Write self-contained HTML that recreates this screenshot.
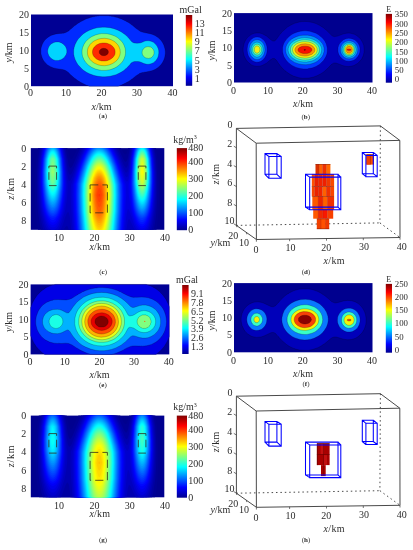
<!DOCTYPE html>
<html><head><meta charset="utf-8"><title>figure</title>
<style>html,body{margin:0;padding:0;background:#fff}svg{display:block}text{font-family:"Liberation Serif",serif;fill:#2c2c2c}</style>
</head><body>
<svg width="413" height="550" viewBox="0 0 413 550">
<defs>
<linearGradient id="jet" x1="0" y1="1" x2="0" y2="0"><stop offset="0" stop-color="#00008F"/><stop offset=".125" stop-color="#0000FF"/><stop offset=".375" stop-color="#00FFFF"/><stop offset=".625" stop-color="#FFFF00"/><stop offset=".875" stop-color="#FF0000"/><stop offset="1" stop-color="#800000"/></linearGradient>
<linearGradient id="jetb" x1="0" y1="1" x2="0" y2="0"><stop offset="0" stop-color="#00008F"/><stop offset=".125" stop-color="#0000FF"/><stop offset=".375" stop-color="#00FFFF"/><stop offset=".625" stop-color="#FFFF00"/><stop offset=".875" stop-color="#FF0000"/><stop offset="1" stop-color="#800000"/></linearGradient>
</defs>
<rect width="413" height="550" fill="#fff"/>
<rect x="31.0" y="14.5" width="142.0" height="71.7" fill="#000094"/>
<path d="M97.0,16.0 98.5,16.0 99.0,15.7 102.5,15.7 108.5,15.7 109.0,16.0 110.5,16.0 111.0,16.2 113.5,16.5 115.0,17.0 117.5,17.5 120.5,18.7 121.0,18.7 123.5,20.0 124.0,20.0 124.5,20.5 125.0,20.5 125.5,21.0 128.5,22.5 129.1,23.0 130.1,23.5 131.5,24.7 132.1,25.0 136.2,28.5 138.5,30.0 139.0,30.6 140.0,31.0 140.5,31.5 144.0,32.5 150.0,33.7 152.0,34.3 155.0,35.5 158.0,37.5 158.7,38.0 161.1,40.5 162.5,42.5 163.8,45.0 165.0,49.0 165.3,51.5 165.3,53.5 164.8,57.0 163.8,60.0 162.5,62.5 161.1,64.5 158.7,67.0 156.5,68.6 154.9,69.5 152.0,70.7 146.0,72.0 144.0,72.2 143.5,72.4 142.5,72.5 140.8,73.0 139.0,73.8 138.5,74.3 135.5,76.2 132.2,79.0 131.5,79.3 130.1,80.5 129.1,81.0 128.6,81.5 125.5,83.0 125.0,83.5 124.5,83.5 124.0,84.0 123.5,84.0 121.0,85.3 120.5,85.3 119.0,86.0 118.0,86.2 108.5,86.2 89.5,86.2 87.0,85.3 86.5,85.3 80.0,82.0 79.5,81.5 78.0,80.8 75.5,78.8 74.9,78.5 69.5,73.8 69.0,73.0 68.0,72.3 67.5,71.7 65.0,70.2 62.5,69.5 57.0,68.7 53.5,67.9 50.5,66.7 47.5,64.9 45.0,62.5 43.5,60.5 42.2,58.0 41.0,54.0 40.9,53.0 40.9,49.5 41.2,47.5 42.2,44.5 43.2,42.5 44.5,40.5 46.5,38.4 48.5,36.9 50.9,35.5 52.5,34.9 56.0,33.9 60.0,33.4 61.0,33.5 62.5,33.2 63.5,33.2 65.8,32.5 69.0,30.7 69.5,30.0 71.5,28.5 74.8,25.5 75.5,25.2 78.0,23.2 79.5,22.5 80.0,22.0 86.5,18.7 87.0,18.7 88.0,18.2 88.5,18.2 91.0,17.2 91.5,17.2 93.0,16.7 95.0,16.5 95.5,16.2 96.5,16.2Z" fill="#002AFF" stroke="#000" stroke-opacity=".5" stroke-width=".4"/>
<path d="M99.5,27.5 102.5,27.2 105.0,27.2 110.0,27.7 114.0,28.7 118.0,30.2 121.0,31.7 125.0,34.5 127.3,36.5 129.0,38.6 130.0,39.5 131.0,41.0 132.5,42.2 134.0,42.9 137.0,43.2 139.5,43.1 141.0,42.7 145.0,41.1 147.0,40.7 149.0,40.8 151.0,41.2 153.5,42.3 155.9,44.5 157.0,46.0 158.2,48.5 158.7,50.5 158.8,53.0 158.3,56.0 157.8,57.5 157.0,59.0 155.9,60.5 154.4,62.0 153.5,62.7 151.0,63.8 149.0,64.2 147.0,64.3 144.0,63.6 141.0,62.2 139.5,61.7 138.0,61.5 134.5,61.5 133.0,61.9 131.0,63.1 130.0,64.5 128.5,66.1 126.5,68.3 126.0,68.5 123.8,70.5 121.0,72.3 116.0,74.7 110.0,76.3 105.0,76.8 102.5,76.8 98.0,76.3 95.5,75.8 93.5,75.3 89.5,73.8 86.5,72.3 83.5,70.3 82.0,69.0 78.2,65.0 76.6,62.5 75.1,59.5 74.0,56.0 74.0,55.0 73.7,54.5 73.7,49.5 74.0,49.0 74.0,48.0 75.1,44.5 76.6,41.5 78.2,39.0 82.0,35.0 83.5,33.7 86.5,31.7 89.5,30.2 93.5,28.7 97.0,27.8ZM55.7,42.0 57.5,41.9 59.0,42.0 61.5,42.9 63.0,43.9 64.2,45.0 65.5,46.6 66.4,48.5 66.8,50.0 66.8,52.5 66.2,54.5 64.6,57.0 63.0,58.5 61.0,59.7 59.0,60.2 58.5,60.5 55.5,60.4 53.8,60.0 52.0,59.1 51.0,58.3 49.0,56.1 48.0,53.5 47.7,52.0 47.7,50.5 48.0,49.0 48.7,47.0 50.0,45.0 51.5,43.7 53.8,42.5Z" fill="#00D4FF" stroke="#000" stroke-opacity=".5" stroke-width=".4"/>
<path d="M99.0,34.0 101.5,33.6 107.0,33.7 110.5,34.4 115.0,36.1 117.5,37.6 119.3,39.0 122.2,42.0 123.2,43.5 124.2,45.5 125.2,48.5 125.5,51.0 125.5,53.5 125.2,55.5 124.2,58.5 123.2,60.5 122.2,62.0 119.3,65.0 116.5,67.0 114.5,68.1 112.0,69.1 110.0,69.8 108.5,70.0 106.0,70.4 101.5,70.4 99.5,70.1 95.5,69.1 91.5,67.3 88.5,65.2 85.8,62.5 84.0,59.8 82.6,56.5 82.1,54.0 82.0,52.0 82.1,50.0 82.6,47.5 84.0,44.2 85.8,41.5 88.5,38.8 91.5,36.7 95.5,34.9ZM145.9,47.0 148.0,46.6 150.5,47.0 151.5,47.5 153.0,49.0 154.0,51.0 154.0,54.0 153.5,55.0 153.0,56.0 151.5,57.5 150.5,58.0 148.5,58.4 146.0,58.0 145.0,57.6 143.5,56.3 142.5,54.8 142.1,53.0 142.1,52.0 142.5,50.2 143.5,48.7 145.0,47.4Z" fill="#80FF80" stroke="#000" stroke-opacity=".5" stroke-width=".4"/>
<path d="M101.0,38.5 104.5,38.3 106.5,38.5 109.0,39.0 111.5,39.9 114.0,41.2 115.5,42.4 117.0,43.8 118.5,45.8 119.1,47.0 120.0,49.5 120.3,52.5 119.9,55.0 118.6,58.0 117.0,60.2 115.5,61.6 112.5,63.6 109.0,65.0 106.5,65.5 104.5,65.7 101.0,65.5 98.0,64.8 94.0,63.0 91.5,61.1 90.0,59.5 88.2,56.5 87.6,54.5 87.4,52.0 87.6,49.5 88.2,47.5 90.0,44.5 91.5,42.9 94.0,41.0 98.0,39.2Z" fill="#FFD500" stroke="#000" stroke-opacity=".5" stroke-width=".4"/>
<path d="M102.5,43.0 105.0,43.0 107.0,43.3 110.0,44.4 111.0,45.0 113.0,46.7 114.0,48.0 114.8,49.5 115.1,51.0 115.1,53.0 114.8,54.5 114.0,56.0 112.3,58.0 110.0,59.6 107.0,60.7 105.0,61.0 101.5,60.9 99.0,60.2 96.5,59.0 94.3,57.0 93.6,56.0 93.0,55.0 92.5,53.0 92.5,51.0 93.0,49.0 94.3,47.0 96.5,45.0 98.5,44.0 99.5,43.6Z" fill="#FF2A00" stroke="#000" stroke-opacity=".5" stroke-width=".4"/>
<path d="M102.0,48.5 103.5,48.3 105.5,48.5 107.3,49.5 108.0,50.5 108.5,52.0 108.0,53.5 107.3,54.5 106.0,55.2 105.5,55.5 104.0,55.7 102.0,55.5 101.0,55.0 99.5,53.5 99.2,52.0 99.5,50.5 101.0,49.0Z" fill="#800000" stroke="#000" stroke-opacity=".5" stroke-width=".4"/>
<text x="29.0" y="17.9" text-anchor="end" font-size="10">20</text>
<text x="29.0" y="35.8" text-anchor="end" font-size="10">15</text>
<text x="29.0" y="53.8" text-anchor="end" font-size="10">10</text>
<text x="29.0" y="71.7" text-anchor="end" font-size="10">5</text>
<text x="29.0" y="89.6" text-anchor="end" font-size="10">0</text>
<text x="30.5" y="96.3" text-anchor="middle" font-size="10">0</text>
<text x="66.0" y="96.3" text-anchor="middle" font-size="10">10</text>
<text x="101.5" y="96.3" text-anchor="middle" font-size="10">20</text>
<text x="137.0" y="96.3" text-anchor="middle" font-size="10">30</text>
<text x="172.5" y="96.3" text-anchor="middle" font-size="10">40</text>
<text x="12.3" y="52.5" text-anchor="middle" font-size="10" transform="rotate(-90 12.3 52.5)"><tspan font-style="italic">y</tspan>/km</text>
<text x="101.6" y="110.1" text-anchor="middle" font-size="10"><tspan font-style="italic">x</tspan>/km</text>
<text x="102.9" y="118.3" text-anchor="middle" font-size="7">(<tspan font-weight="bold">a</tspan>)</text>
<rect x="185.8" y="15.0" width="6.4" height="70.8" fill="url(#jet)"/>
<text x="190.7" y="13.2" text-anchor="middle" font-size="10">mGal</text>
<text x="194.8" y="26.7" text-anchor="start" font-size="10">13</text>
<text x="194.8" y="35.9" text-anchor="start" font-size="10">11</text>
<text x="194.8" y="45.2" text-anchor="start" font-size="10">9</text>
<text x="194.8" y="54.4" text-anchor="start" font-size="10">7</text>
<text x="194.8" y="63.7" text-anchor="start" font-size="10">5</text>
<text x="194.8" y="73.0" text-anchor="start" font-size="10">3</text>
<text x="194.8" y="82.2" text-anchor="start" font-size="10">1</text>
<rect x="30.6" y="284.4" width="138.7" height="70.0" fill="#000094"/>
<path d="M53.5,284.9 55.6,284.4 146.1,284.4 150.6,285.9 152.6,286.8 153.1,287.2 155.1,288.2 156.9,289.4 159.6,291.6 162.6,294.7 165.0,297.9 166.3,299.9 168.5,304.4 169.3,306.7 169.3,336.6 168.7,338.4 167.0,341.9 164.3,346.4 161.8,349.4 158.6,352.5 156.0,354.4 147.6,354.4 44.6,354.4 44.1,353.9 43.6,353.8 42.7,352.9 42.1,352.7 39.6,350.3 39.0,349.9 38.7,349.4 36.1,346.4 34.6,344.0 34.1,343.4 31.6,338.4 31.6,337.9 30.9,336.4 30.6,335.4 30.6,307.4 31.1,306.4 31.1,305.9 32.1,303.9 32.1,303.4 34.6,298.9 37.1,295.3 41.3,290.9 42.3,290.4 43.1,289.5 43.7,289.4 45.6,287.9 46.1,287.8 46.6,287.3 49.6,286.0 50.6,285.8 52.1,285.1Z" fill="#0000E6" stroke="#000" stroke-opacity=".5" stroke-width=".4"/>
<path d="M96.6,287.9 98.6,287.6 102.6,287.5 108.1,288.0 111.1,288.6 114.6,289.5 117.6,290.5 119.6,291.5 120.1,291.5 120.6,292.0 121.1,292.0 121.6,292.5 122.1,292.5 122.5,292.9 127.1,295.3 131.1,296.9 134.1,297.4 134.6,297.2 136.6,297.3 141.6,297.1 145.1,297.2 148.6,297.8 150.1,298.4 150.6,298.4 153.0,299.4 156.1,301.3 158.1,302.8 161.5,306.4 163.1,308.8 164.4,311.4 165.6,314.9 166.2,317.9 166.5,321.4 166.2,325.4 165.1,329.9 164.1,332.4 162.6,335.2 160.1,338.5 157.1,341.3 155.6,342.3 151.6,344.4 146.6,345.8 142.1,346.2 141.6,346.0 140.6,346.2 140.1,346.0 138.6,346.1 135.1,345.9 132.6,346.0 130.6,346.4 125.9,348.4 125.3,348.9 124.1,349.4 123.6,349.9 120.1,351.6 116.1,353.2 115.1,353.4 114.6,353.7 111.6,354.4 105.1,354.4 90.6,354.3 88.6,353.7 88.1,353.4 87.1,353.3 81.1,350.6 79.6,349.8 77.6,348.4 76.5,347.9 72.1,345.0 68.6,343.5 65.6,343.2 61.1,343.5 58.6,343.3 58.1,343.5 54.1,343.2 49.6,342.1 45.1,339.8 42.6,337.7 41.3,336.4 39.1,333.4 37.7,330.9 36.9,328.9 35.9,324.9 35.7,322.9 35.7,320.4 36.1,317.4 36.4,315.9 38.1,311.4 38.9,309.9 41.0,306.9 43.1,304.8 47.1,302.0 47.6,302.0 51.1,300.4 52.1,300.4 53.6,299.8 58.6,299.5 59.1,299.7 60.1,299.5 60.6,299.7 66.1,299.9 69.6,299.3 71.6,298.4 74.6,296.6 77.1,294.9 78.1,294.4 78.6,293.9 80.7,292.9 81.1,292.5 81.6,292.5 82.1,292.0 82.6,292.0 83.1,291.5 83.6,291.5 85.6,290.5 90.1,289.1 95.1,288.0Z" fill="#004DFF" stroke="#000" stroke-opacity=".5" stroke-width=".4"/>
<path d="M101.6,292.4 106.1,292.7 110.1,293.4 113.6,294.4 117.6,296.1 121.6,298.4 124.3,300.4 126.6,302.4 130.5,306.4 131.6,307.1 132.6,307.4 133.1,307.5 134.6,307.2 139.6,305.6 142.6,305.1 145.6,305.1 148.6,305.7 150.6,306.4 152.6,307.4 155.1,309.2 156.6,310.7 158.5,313.4 159.5,315.4 160.4,318.4 160.6,319.9 160.6,323.4 160.0,326.4 159.2,328.4 158.5,329.9 157.4,331.4 154.6,334.4 151.1,336.6 148.1,337.7 145.6,338.1 142.6,338.1 139.6,337.6 134.4,335.9 132.6,335.8 131.6,336.2 130.6,336.8 125.3,341.9 121.1,345.2 115.9,347.9 111.6,349.4 107.6,350.3 104.1,350.7 99.6,350.7 95.6,350.3 90.6,349.1 85.6,347.1 82.1,345.2 79.1,342.9 75.6,339.6 72.7,335.9 69.8,331.4 68.8,330.4 68.1,330.1 67.6,329.9 66.1,330.5 62.1,332.6 60.1,333.2 57.6,333.7 53.6,333.5 51.6,333.1 48.6,331.7 47.1,330.7 44.8,328.4 44.1,327.4 43.0,324.9 42.6,323.4 42.5,320.4 43.4,316.9 44.9,314.4 46.6,312.7 48.6,311.2 49.6,310.7 53.1,309.5 57.6,309.3 59.6,309.6 61.6,310.2 63.1,310.9 66.6,312.8 68.6,312.9 70.6,310.6 73.0,306.9 76.6,302.5 78.9,300.4 83.6,297.1 87.1,295.4 89.6,294.4 93.1,293.4 97.1,292.7Z" fill="#00B2FF" stroke="#000" stroke-opacity=".5" stroke-width=".4"/>
<path d="M98.6,297.4 103.1,297.2 105.6,297.5 109.1,298.1 112.6,299.3 117.1,301.6 120.6,304.3 122.7,306.4 125.0,309.4 128.1,315.0 129.1,315.8 130.1,315.9 132.7,315.4 134.6,314.5 137.6,312.5 139.1,311.7 141.1,311.0 143.6,310.6 145.6,310.7 148.6,311.5 150.6,312.5 152.9,314.4 154.3,316.4 155.2,318.4 155.6,320.4 155.6,322.9 155.0,325.4 153.6,327.9 151.6,330.0 150.1,331.0 147.6,332.1 145.6,332.5 143.6,332.6 141.6,332.3 139.6,331.7 138.1,331.0 133.6,328.1 131.1,327.4 129.6,327.3 128.4,327.9 127.1,330.1 125.3,333.4 123.5,335.9 120.6,338.9 118.1,340.9 114.6,343.0 112.1,344.1 109.6,344.9 105.6,345.7 102.6,346.0 97.6,345.7 93.6,344.9 91.1,344.1 88.6,343.0 85.1,340.9 82.6,338.9 79.7,335.9 78.0,333.4 76.4,330.4 75.5,327.9 74.7,323.9 74.8,318.4 75.8,314.4 76.8,311.9 78.2,309.4 80.5,306.4 82.6,304.3 86.1,301.6 88.6,300.2 92.6,298.6 95.6,297.8ZM54.1,314.9 56.1,314.6 57.1,314.7 58.1,314.9 60.1,315.9 61.6,317.4 62.6,319.3 62.9,321.9 62.6,323.4 62.1,324.4 62.1,324.9 59.6,327.4 57.6,328.2 57.1,328.4 55.1,328.4 53.6,327.9 51.6,326.9 50.6,325.9 49.6,323.9 49.1,322.4 49.1,320.4 50.1,317.9 52.6,315.4 53.1,315.4Z" fill="#1AFFE5" stroke="#000" stroke-opacity=".5" stroke-width=".4"/>
<path d="M99.6,300.9 103.1,300.8 105.1,301.0 108.6,301.8 112.6,303.3 116.1,305.5 119.1,308.1 121.4,310.9 123.4,314.9 124.3,317.9 124.5,319.9 124.5,323.9 123.5,327.9 121.9,331.4 119.1,335.1 116.1,337.7 114.1,339.1 112.1,340.1 107.6,341.7 103.6,342.3 99.1,342.3 95.6,341.7 91.1,340.1 89.1,339.1 87.1,337.7 84.1,335.1 81.3,331.4 79.7,327.9 78.7,323.9 78.7,319.9 79.0,317.9 79.8,314.9 81.8,310.9 84.1,308.1 87.1,305.5 89.1,304.1 91.1,303.1 94.6,301.8 97.6,301.1ZM142.6,314.9 146.1,314.9 146.6,315.4 147.1,315.4 147.6,315.9 148.1,315.9 150.1,317.9 150.1,318.4 150.6,318.9 150.6,319.9 151.1,320.9 151.1,322.4 150.6,323.4 150.6,324.4 149.6,325.4 149.6,325.9 148.1,327.4 147.6,327.4 147.1,327.9 146.6,327.9 146.1,328.2 145.6,328.4 142.6,328.4 142.1,327.9 141.1,327.7 140.6,327.4 138.6,325.6 137.5,323.9 137.2,322.4 137.1,320.9 137.5,319.4 138.1,318.2 138.5,317.9 138.6,317.4 139.6,316.4 140.1,316.3 141.1,315.4 141.6,315.4Z" fill="#80FF80" stroke="#000" stroke-opacity=".5" stroke-width=".4"/>
<path d="M101.6,303.4 105.1,303.7 107.1,304.1 109.6,305.0 113.1,306.8 115.8,308.9 117.6,310.9 119.5,313.9 120.4,315.9 121.0,317.9 121.4,321.4 121.2,324.4 120.1,328.1 118.6,330.9 116.2,333.9 113.1,336.4 109.6,338.2 105.6,339.4 102.1,339.8 98.1,339.5 94.6,338.6 91.1,337.0 88.1,334.9 85.7,332.4 83.5,328.9 82.3,325.9 81.8,321.9 81.8,320.4 82.2,317.9 83.2,314.9 84.5,312.4 85.6,310.9 87.4,308.9 90.1,306.8 93.6,305.0 96.1,304.1 98.1,303.7Z" fill="#E5FF1A" stroke="#000" stroke-opacity=".5" stroke-width=".4"/>
<path d="M98.1,306.4 101.6,306.0 104.6,306.3 107.1,306.9 110.6,308.4 113.6,310.6 115.6,312.9 117.1,315.4 118.1,318.4 118.5,321.9 118.1,324.9 117.0,327.9 115.9,329.9 113.8,332.4 111.2,334.4 108.3,335.9 105.1,336.8 101.1,337.2 98.1,336.8 94.9,335.9 92.1,334.5 89.4,332.4 87.6,330.3 86.2,327.9 85.1,324.9 84.7,321.9 85.0,318.9 86.1,315.4 87.6,312.9 89.6,310.6 92.6,308.4 96.1,306.9Z" fill="#FFB300" stroke="#000" stroke-opacity=".5" stroke-width=".4"/>
<path d="M99.6,309.4 102.1,309.3 104.6,309.5 107.1,310.3 109.1,311.2 111.4,312.9 113.1,314.8 114.1,316.4 115.2,319.4 115.4,322.4 115.0,324.4 114.5,325.9 113.1,328.4 111.3,330.4 109.2,331.9 106.6,333.1 103.6,333.8 101.1,334.0 98.1,333.5 95.6,332.7 93.1,331.3 91.1,329.6 89.6,327.7 88.7,325.9 88.0,323.4 87.8,320.9 88.0,319.4 89.1,316.4 90.1,314.8 91.8,312.9 94.1,311.2 97.1,309.9Z" fill="#FF4C00" stroke="#000" stroke-opacity=".5" stroke-width=".4"/>
<path d="M100.1,312.9 102.1,312.8 104.6,313.2 106.6,313.9 108.1,314.7 109.1,315.4 110.5,316.9 111.6,318.7 112.1,320.4 112.2,321.9 111.9,323.4 111.1,325.4 110.1,326.8 109.0,327.9 106.6,329.3 104.6,330.0 103.1,330.3 101.6,330.4 98.6,330.0 95.6,328.8 94.1,327.8 92.8,326.4 91.6,324.4 91.2,322.9 91.1,320.4 91.5,318.9 93.1,316.4 94.1,315.4 96.1,314.1 97.6,313.5Z" fill="#E50000" stroke="#000" stroke-opacity=".5" stroke-width=".4"/>
<path d="M99.1,316.4 101.1,316.1 104.1,316.4 106.6,317.9 107.7,319.4 108.2,320.9 108.1,322.9 107.1,324.7 106.4,325.4 105.1,326.4 104.1,326.7 103.6,326.9 100.6,327.0 99.6,326.9 98.1,326.4 96.1,324.7 95.1,322.9 95.0,320.9 95.6,319.1 96.6,317.9Z" fill="#800000" stroke="#000" stroke-opacity=".5" stroke-width=".4"/>
<text x="28.6" y="287.8" text-anchor="end" font-size="10">20</text>
<text x="28.6" y="305.3" text-anchor="end" font-size="10">15</text>
<text x="28.6" y="322.8" text-anchor="end" font-size="10">10</text>
<text x="28.6" y="340.3" text-anchor="end" font-size="10">5</text>
<text x="28.6" y="357.8" text-anchor="end" font-size="10">0</text>
<text x="30.1" y="365.0" text-anchor="middle" font-size="10">0</text>
<text x="64.8" y="365.0" text-anchor="middle" font-size="10">10</text>
<text x="99.5" y="365.0" text-anchor="middle" font-size="10">20</text>
<text x="134.1" y="365.0" text-anchor="middle" font-size="10">30</text>
<text x="168.8" y="365.0" text-anchor="middle" font-size="10">40</text>
<text x="12.3" y="322.0" text-anchor="middle" font-size="10" transform="rotate(-90 12.3 322.0)"><tspan font-style="italic">y</tspan>/km</text>
<text x="99.6" y="377.5" text-anchor="middle" font-size="10"><tspan font-style="italic">x</tspan>/km</text>
<text x="102.9" y="386.7" text-anchor="middle" font-size="7">(<tspan font-weight="bold">e</tspan>)</text>
<circle cx="144.7" cy="321.4" r=".7" fill="#E08020"/>
<rect x="182.2" y="285.0" width="6.4" height="69.0" fill="url(#jet)"/>
<text x="187.0" y="283.2" text-anchor="middle" font-size="10">mGal</text>
<text x="191.0" y="296.8" text-anchor="start" font-size="10">9.1</text>
<text x="191.0" y="305.7" text-anchor="start" font-size="10">7.8</text>
<text x="191.0" y="314.6" text-anchor="start" font-size="10">6.5</text>
<text x="191.0" y="323.5" text-anchor="start" font-size="10">5.2</text>
<text x="191.0" y="332.4" text-anchor="start" font-size="10">3.9</text>
<text x="191.0" y="341.3" text-anchor="start" font-size="10">2.6</text>
<text x="191.0" y="350.2" text-anchor="start" font-size="10">1.3</text>
<rect x="234.0" y="13.1" width="138.5" height="69.4" fill="#00008F"/>
<path d="M301.5,21.6 304.0,21.6 304.5,21.4 308.0,21.6 312.5,22.4 316.1,23.6 320.0,25.5 323.5,27.8 326.8,30.6 331.9,35.6 333.0,36.2 334.5,36.6 337.5,36.1 343.5,33.8 346.5,33.2 349.0,33.0 351.0,33.3 354.5,34.3 356.0,35.1 358.5,36.9 359.7,38.1 361.3,40.1 362.7,42.6 363.8,45.6 364.2,50.1 364.0,52.6 363.3,55.6 361.9,58.6 360.9,60.1 358.6,62.6 357.5,63.5 354.0,65.5 351.0,66.3 348.5,66.6 347.0,66.5 345.0,66.2 342.5,65.5 338.0,63.7 336.0,63.1 334.5,63.0 333.5,63.2 331.3,64.6 328.0,68.1 324.0,71.7 321.0,73.7 317.0,75.8 313.5,77.1 309.0,78.1 302.5,78.3 299.0,77.8 293.4,76.1 290.5,74.6 286.6,72.1 285.6,71.1 285.0,70.8 281.8,67.6 280.1,65.6 279.1,64.1 278.5,63.6 277.5,61.8 275.8,59.6 274.9,59.1 274.5,58.6 272.5,58.5 272.0,58.9 271.4,59.1 271.0,59.6 270.0,60.2 266.5,63.2 262.0,65.6 259.5,66.2 256.5,66.3 254.0,65.9 251.5,64.9 249.0,63.1 247.0,61.1 245.4,58.6 244.2,56.1 243.6,54.1 243.1,51.1 243.1,48.1 243.9,44.1 244.6,42.1 245.6,40.1 247.0,38.1 249.0,36.1 251.5,34.3 254.0,33.3 256.5,32.9 259.5,33.0 262.0,33.6 266.5,36.0 271.3,40.1 272.5,40.8 273.5,41.0 274.5,40.9 276.0,39.8 279.7,34.6 280.3,34.1 281.8,32.1 287.4,27.1 291.0,24.9 294.5,23.3 299.5,21.9Z" fill="#0000B8" stroke="#000" stroke-opacity=".5" stroke-width=".4"/>
<path d="M302.0,31.1 304.0,30.8 306.0,30.8 310.0,31.3 314.5,32.7 316.0,33.3 318.5,34.8 321.0,36.7 322.9,38.6 324.9,41.1 326.3,44.1 327.3,48.1 327.3,51.6 326.9,54.1 325.7,57.1 323.5,60.6 320.0,63.9 318.5,65.0 316.0,66.4 312.0,68.0 308.5,68.6 307.5,68.9 303.5,68.9 300.0,68.5 296.0,67.4 292.0,65.5 289.0,63.3 286.8,61.1 285.7,59.6 284.1,57.1 283.5,55.6 282.6,52.1 282.6,47.6 283.2,45.1 283.7,43.6 284.8,41.6 287.0,38.5 290.0,35.7 292.0,34.3 294.0,33.3 297.5,31.9 300.5,31.2ZM255.7,37.1 257.5,37.0 259.5,37.3 261.0,37.9 263.0,39.4 264.5,41.0 265.7,43.1 266.8,46.1 267.1,48.1 267.2,49.6 266.9,52.6 266.4,54.6 265.2,57.1 263.7,59.1 262.0,60.6 260.5,61.5 258.5,62.1 256.5,62.2 254.5,61.8 252.5,60.8 250.5,59.1 249.1,57.1 248.3,55.6 247.7,53.6 247.2,50.6 247.2,48.6 247.7,45.6 248.3,43.6 249.1,42.1 250.5,40.1 252.5,38.4 253.5,37.8ZM346.9,38.6 348.5,38.3 350.5,38.4 352.5,38.9 354.5,39.8 356.2,41.1 358.0,43.1 359.3,45.6 359.8,47.1 360.0,48.6 359.9,52.1 359.3,54.1 358.2,56.1 356.6,58.1 355.0,59.5 353.0,60.5 350.9,61.1 349.0,61.3 346.0,60.9 344.0,60.0 342.5,59.1 340.1,56.6 339.1,55.1 338.3,53.1 338.1,52.1 337.9,50.6 338.0,47.6 338.8,45.1 340.0,43.1 342.0,41.0 343.5,39.8 346.0,38.7Z" fill="#0038FF" stroke="#000" stroke-opacity=".5" stroke-width=".4"/>
<path d="M300.0,35.6 303.0,35.2 307.5,35.2 310.5,35.7 314.0,36.8 317.5,38.7 319.9,40.6 322.4,43.6 323.4,45.6 324.1,48.1 324.1,51.6 323.2,54.6 321.8,57.1 320.0,59.1 317.0,61.5 314.0,63.0 310.0,64.2 306.0,64.7 302.0,64.5 298.0,63.7 294.5,62.4 291.0,60.2 289.5,58.9 287.4,56.1 286.2,53.6 285.7,51.1 285.7,48.1 286.2,46.1 286.9,44.6 288.5,42.1 289.9,40.6 291.5,39.2 294.0,37.7 297.0,36.4ZM255.0,40.1 257.0,39.7 258.5,39.9 259.5,40.2 261.0,41.0 262.3,42.1 263.1,43.1 264.0,44.8 264.6,46.6 265.0,49.6 264.8,51.6 264.1,54.1 263.1,56.1 262.3,57.1 261.0,58.2 259.5,59.0 258.0,59.4 256.0,59.4 254.5,58.9 253.1,58.1 251.0,55.9 250.1,54.1 249.5,52.3 249.2,50.6 249.2,48.6 249.7,46.1 250.3,44.6 251.2,43.1 252.5,41.6 253.5,40.8ZM347.0,41.1 348.5,40.8 350.5,40.9 352.5,41.5 354.0,42.3 355.4,43.6 356.2,44.6 357.3,46.6 357.7,48.1 357.8,50.1 357.6,51.6 357.2,53.1 356.2,55.1 355.3,56.1 354.0,57.3 353.0,57.9 351.0,58.6 349.5,58.8 348.0,58.7 346.5,58.4 344.5,57.5 343.0,56.3 341.7,54.6 341.2,53.6 340.5,51.6 340.4,49.1 340.6,47.6 341.6,45.1 342.8,43.6 344.0,42.5 345.0,41.8Z" fill="#0090FF" stroke="#000" stroke-opacity=".5" stroke-width=".4"/>
<path d="M301.2,38.1 304.5,37.8 307.0,37.9 310.0,38.3 313.5,39.5 316.0,40.8 318.3,42.6 320.0,44.6 321.3,47.1 321.7,49.1 321.6,51.1 320.9,53.6 319.5,55.9 317.5,57.9 314.5,59.8 312.0,60.9 309.0,61.6 306.5,62.0 303.0,61.9 299.5,61.4 296.5,60.4 294.0,59.1 291.5,57.2 289.7,55.1 288.7,53.1 288.1,50.6 288.2,48.6 288.9,46.1 290.5,43.7 292.1,42.1 294.5,40.4 298.0,38.8ZM255.2,42.6 256.5,42.2 257.5,42.2 258.5,42.4 259.5,42.8 260.5,43.5 261.5,44.6 262.2,45.6 262.8,47.1 263.1,49.6 262.9,51.6 262.4,53.1 261.0,55.2 259.0,56.6 258.0,56.9 256.5,57.0 255.5,56.7 254.0,56.0 252.3,54.1 251.3,51.6 251.1,49.1 251.3,47.6 251.8,46.1 253.1,44.1 254.0,43.2ZM348.0,42.6 349.0,42.5 351.0,42.8 353.0,43.8 354.0,44.6 354.8,45.6 355.4,46.6 355.9,48.1 356.1,49.6 356.0,51.1 355.1,53.6 354.4,54.6 353.4,55.6 351.0,56.8 349.5,57.1 348.0,57.0 347.0,56.8 345.5,56.1 344.5,55.3 343.5,54.1 342.6,52.6 342.2,51.1 342.2,48.6 342.6,47.1 343.4,45.6 344.2,44.6 345.4,43.6 346.5,43.0Z" fill="#10D8F0" stroke="#000" stroke-opacity=".5" stroke-width=".4"/>
<path d="M301.5,40.1 304.0,39.8 307.0,39.9 309.5,40.3 312.5,41.3 314.5,42.3 316.8,44.1 318.0,45.6 319.0,47.6 319.4,49.6 319.2,51.6 318.7,53.1 317.3,55.1 315.5,56.8 313.3,58.1 311.0,59.1 308.5,59.7 305.5,60.0 303.0,59.9 300.5,59.5 298.0,58.8 296.0,57.9 294.0,56.6 292.1,54.6 290.9,52.6 290.4,50.1 290.6,48.1 291.2,46.6 292.6,44.6 294.0,43.2 296.5,41.7 299.0,40.7ZM348.1,44.1 350.0,44.1 352.0,44.8 353.7,46.6 354.4,48.1 354.6,50.1 354.4,51.6 353.9,52.6 353.3,53.6 352.5,54.4 350.5,55.4 348.0,55.5 346.5,54.9 344.9,53.6 344.3,52.6 343.7,51.1 343.6,49.1 344.2,47.1 344.8,46.1 345.9,45.1 347.0,44.4ZM255.4,44.6 257.0,44.2 258.0,44.3 259.0,44.7 260.5,46.1 261.3,47.6 261.6,49.6 261.3,51.6 260.5,53.1 259.0,54.5 258.0,54.9 257.0,55.0 255.5,54.6 254.0,53.5 252.9,51.6 252.6,49.6 252.9,47.6 254.0,45.7Z" fill="#70FF90" stroke="#000" stroke-opacity=".5" stroke-width=".4"/>
<path d="M301.2,42.1 303.5,41.8 305.5,41.7 308.5,42.1 310.5,42.6 312.0,43.2 314.0,44.3 315.4,45.6 316.5,47.1 317.1,48.6 317.2,50.6 316.6,52.6 315.9,53.6 314.5,55.0 313.0,56.1 311.0,57.0 309.0,57.6 306.5,58.0 304.5,58.1 300.5,57.6 297.8,56.6 296.0,55.6 294.3,54.1 293.5,53.1 292.7,51.1 292.5,49.6 293.0,47.6 293.6,46.6 295.0,45.0 297.0,43.6 298.5,42.9ZM348.3,45.1 350.0,45.1 351.0,45.5 351.9,46.1 353.0,47.6 353.4,49.1 353.4,50.6 352.7,52.6 351.5,53.8 350.0,54.5 348.5,54.5 347.5,54.2 346.5,53.7 345.3,52.1 344.8,50.6 344.9,48.6 345.5,47.1 347.0,45.6ZM256.5,46.1 258.0,46.1 258.6,46.6 259.5,47.6 259.9,49.1 260.0,49.6 259.5,51.6 258.0,53.1 256.5,53.1 255.5,52.6 255.0,52.1 254.5,51.1 254.3,49.6 254.5,48.1 255.0,47.1 255.5,46.6Z" fill="#F0F010" stroke="#000" stroke-opacity=".5" stroke-width=".4"/>
<path d="M301.5,44.1 305.5,43.7 309.5,44.4 311.0,45.0 312.8,46.1 314.4,48.1 314.8,49.1 314.8,50.6 314.5,51.6 313.9,52.6 312.9,53.6 311.5,54.5 308.5,55.6 306.5,56.0 304.5,56.1 301.0,55.6 299.5,55.1 297.5,54.0 296.4,53.1 295.6,52.1 295.0,50.6 294.9,49.6 295.2,48.6 296.0,47.1 297.0,46.1 298.5,45.2ZM347.7,46.6 349.0,46.3 350.5,46.6 351.5,47.5 352.0,48.3 352.3,49.6 352.1,51.1 351.5,52.1 350.2,53.1 349.0,53.3 347.9,53.1 347.0,52.5 346.1,51.1 345.9,50.1 346.1,48.6 347.0,47.1Z" fill="#FF9000" stroke="#000" stroke-opacity=".5" stroke-width=".4"/>
<path d="M301.5,46.6 304.0,46.2 306.0,46.2 308.3,46.6 309.5,47.0 311.1,48.1 311.5,48.6 311.9,49.6 311.9,50.1 311.6,51.1 310.0,52.5 308.0,53.3 306.5,53.6 303.0,53.5 300.0,52.6 298.6,51.6 298.0,50.6 298.0,49.1 299.4,47.6ZM347.7,49.1 349.0,48.9 350.5,49.1 351.0,49.6 351.0,50.1 350.3,50.6 348.0,50.6 347.2,50.1 347.0,49.6Z" fill="#F81000" stroke="#000" stroke-opacity=".5" stroke-width=".4"/>
<path d="M304.0,49.6 305.0,49.4 305.5,49.6 305.5,50.1 305.0,50.4 304.5,50.4 304.0,50.1Z" fill="#800000" stroke="#000" stroke-opacity=".5" stroke-width=".4"/>
<text x="232.0" y="16.5" text-anchor="end" font-size="10">20</text>
<text x="232.0" y="33.9" text-anchor="end" font-size="10">15</text>
<text x="232.0" y="51.2" text-anchor="end" font-size="10">10</text>
<text x="232.0" y="68.6" text-anchor="end" font-size="10">5</text>
<text x="232.0" y="85.9" text-anchor="end" font-size="10">0</text>
<text x="233.5" y="93.7" text-anchor="middle" font-size="10">0</text>
<text x="268.1" y="93.7" text-anchor="middle" font-size="10">10</text>
<text x="302.8" y="93.7" text-anchor="middle" font-size="10">20</text>
<text x="337.4" y="93.7" text-anchor="middle" font-size="10">30</text>
<text x="372.0" y="93.7" text-anchor="middle" font-size="10">40</text>
<text x="215.0" y="50.5" text-anchor="middle" font-size="10" transform="rotate(-90 215.0 50.5)"><tspan font-style="italic">y</tspan>/km</text>
<text x="303.1" y="106.6" text-anchor="middle" font-size="10"><tspan font-style="italic">x</tspan>/km</text>
<text x="305.8" y="119.0" text-anchor="middle" font-size="7">(<tspan font-weight="bold">b</tspan>)</text>
<rect x="385.8" y="13.9" width="6.2" height="68.8" fill="url(#jetb)"/>
<text x="388.8" y="12.0" text-anchor="middle" font-size="8">E</text>
<text x="394.8" y="17.3" text-anchor="start" font-size="8.8">350</text>
<text x="394.8" y="26.6" text-anchor="start" font-size="8.8">300</text>
<text x="394.8" y="35.9" text-anchor="start" font-size="8.8">250</text>
<text x="394.8" y="45.2" text-anchor="start" font-size="8.8">200</text>
<text x="394.8" y="54.5" text-anchor="start" font-size="8.8">150</text>
<text x="394.8" y="63.8" text-anchor="start" font-size="8.8">100</text>
<text x="394.8" y="73.1" text-anchor="start" font-size="8.8">50</text>
<text x="394.8" y="82.4" text-anchor="start" font-size="8.8">0</text>
<rect x="234.0" y="283.1" width="138.5" height="69.2" fill="#00008F"/>
<path d="M299.4,289.1 303.0,288.8 308.5,288.8 312.5,289.6 318.0,291.5 321.5,293.4 323.0,294.6 324.0,295.0 329.0,299.1 331.6,301.6 334.5,302.8 335.5,302.9 338.0,302.5 343.5,300.9 347.5,300.4 351.5,300.7 354.0,301.4 356.0,302.2 358.2,303.6 359.5,304.6 361.4,306.6 363.2,309.1 364.7,312.1 365.5,314.5 366.1,318.1 366.1,322.1 365.8,324.6 364.7,328.1 364.0,329.7 362.2,332.6 361.4,333.6 358.2,336.6 356.0,338.0 354.0,338.8 351.5,339.5 347.5,339.8 343.5,339.2 336.5,337.1 335.0,337.0 334.0,337.1 332.0,337.7 331.0,338.6 330.5,338.8 329.1,340.1 324.0,344.2 323.1,344.6 321.5,345.8 318.0,347.7 312.5,349.6 310.0,350.1 308.5,350.4 304.0,350.4 299.5,350.1 295.5,349.1 294.4,348.6 293.5,348.4 289.5,346.5 286.5,344.5 281.5,340.2 279.1,337.6 278.5,336.7 278.0,336.4 275.6,333.6 274.5,332.9 273.0,332.4 271.0,332.7 264.0,336.0 261.0,337.0 256.5,337.4 253.0,336.8 251.0,336.1 247.5,333.8 246.0,332.4 244.2,330.1 242.0,325.6 241.1,321.1 241.1,318.1 241.5,315.6 242.0,313.6 243.3,310.6 244.2,309.1 246.0,306.8 247.5,305.4 250.0,303.7 253.0,302.4 254.5,302.1 257.0,301.8 259.0,301.9 261.0,302.2 263.0,302.8 271.0,306.5 273.0,306.8 274.0,306.5 276.0,305.3 278.0,302.8 278.5,302.5 280.9,299.6 285.0,295.8 287.5,293.9 289.0,293.2 289.5,292.7 293.5,290.8 294.4,290.6 295.5,290.1Z" fill="#0000BA" stroke="#000" stroke-opacity=".5" stroke-width=".4"/>
<path d="M301.0,299.6 305.5,299.3 310.0,299.8 314.0,300.9 318.0,302.9 319.8,304.1 322.0,305.9 324.3,308.6 326.5,312.1 328.0,316.6 328.0,317.6 328.2,318.1 328.2,321.1 327.6,324.1 326.5,327.1 324.3,330.6 322.0,333.3 319.9,335.1 318.0,336.3 314.0,338.3 310.0,339.4 309.0,339.5 308.0,339.8 304.5,339.9 300.0,339.5 295.0,337.9 292.0,336.5 288.5,333.8 286.8,332.1 285.6,330.6 283.7,327.6 282.8,325.1 282.1,322.6 281.8,319.6 282.0,317.6 282.8,314.1 284.2,310.6 286.8,307.1 289.5,304.5 292.0,302.7 295.0,301.3 296.5,300.7 299.0,299.9ZM346.2,308.6 348.0,308.2 350.5,308.2 352.5,308.7 354.5,309.7 356.0,310.8 357.7,312.6 359.3,315.6 359.8,317.1 360.1,319.6 360.0,321.6 359.3,324.6 358.3,326.6 357.5,327.9 355.5,329.8 352.5,331.5 351.5,331.7 350.0,332.0 347.0,331.9 344.5,331.1 342.0,329.6 339.5,326.9 338.1,324.1 337.6,322.6 337.4,320.1 337.6,317.6 338.0,316.1 339.5,313.3 342.0,310.6 344.5,309.1ZM254.2,309.1 256.0,308.7 258.5,308.9 261.0,309.7 262.0,310.3 263.6,311.6 264.9,313.1 266.2,315.6 266.6,317.1 266.9,319.1 266.6,322.1 266.2,323.6 264.9,326.1 263.6,327.6 262.0,328.9 261.0,329.5 259.3,330.1 258.5,330.3 256.0,330.5 254.0,330.1 252.0,329.2 250.6,328.1 248.8,326.1 247.7,324.1 247.2,322.6 246.8,320.1 246.9,318.1 247.2,316.6 248.2,314.1 249.5,312.2 250.6,311.1 252.0,310.0Z" fill="#0878FF" stroke="#000" stroke-opacity=".5" stroke-width=".4"/>
<path d="M301.0,305.1 304.5,304.7 307.0,304.8 309.5,305.2 314.0,306.8 316.5,308.3 318.6,310.1 319.9,311.6 321.2,313.6 322.2,316.1 322.7,319.6 322.4,322.6 321.2,325.6 319.9,327.6 317.5,330.1 315.0,331.9 312.0,333.2 309.0,334.0 307.0,334.4 305.0,334.5 302.0,334.3 298.5,333.5 295.0,332.0 292.0,329.9 289.9,327.6 288.6,325.6 287.6,323.1 287.2,321.6 287.1,319.6 287.2,317.6 287.6,316.1 288.6,313.6 289.9,311.6 292.0,309.3 295.0,307.2 298.5,305.7ZM347.9,312.1 349.5,312.0 351.0,312.3 352.5,312.8 353.5,313.5 354.5,314.4 355.4,315.6 356.2,317.1 356.6,318.6 356.7,320.1 356.6,321.6 356.2,323.1 355.4,324.6 354.5,325.8 353.0,327.0 351.5,327.8 350.1,328.1 348.5,328.2 347.0,327.9 345.5,327.3 344.5,326.6 342.7,324.6 342.2,323.6 341.6,321.6 341.6,318.6 342.2,316.6 342.7,315.6 343.9,314.1 345.5,312.9 347.0,312.3ZM254.7,313.6 256.0,313.2 257.5,313.2 259.5,314.0 261.2,315.6 262.2,317.6 262.5,318.6 262.5,320.6 261.9,322.6 260.3,324.6 258.7,325.6 257.5,326.0 256.5,326.0 254.5,325.5 253.5,324.9 252.5,324.0 251.3,322.1 250.9,319.6 251.3,317.1 252.5,315.2 253.5,314.3Z" fill="#38FFC7" stroke="#000" stroke-opacity=".5" stroke-width=".4"/>
<path d="M301.7,309.1 304.0,308.8 307.0,308.9 309.5,309.4 312.0,310.3 314.5,311.8 316.0,313.1 317.3,314.6 318.4,317.1 318.8,319.1 318.6,321.1 318.3,322.6 317.3,324.6 315.0,327.0 313.0,328.4 311.0,329.3 308.0,330.1 305.5,330.4 303.0,330.3 300.5,329.9 297.5,328.8 295.0,327.2 293.5,325.8 292.2,324.1 291.2,321.6 291.0,319.6 291.2,317.6 292.2,315.1 293.5,313.4 295.0,312.0 297.5,310.4 299.0,309.8ZM347.3,315.1 349.0,314.8 351.0,315.1 352.5,316.1 353.3,317.1 353.8,318.1 354.2,320.1 353.8,322.1 353.3,323.1 352.5,324.1 351.0,325.1 349.0,325.4 347.3,325.1 345.5,323.9 344.4,322.1 344.0,320.1 344.4,318.1 345.5,316.3ZM256.0,316.6 257.5,316.6 258.3,317.1 259.0,317.9 259.4,319.1 259.5,319.6 259.0,321.3 258.3,322.1 257.5,322.6 256.0,322.6 255.0,322.1 254.1,320.6 254.0,319.1 254.3,318.1 255.0,317.1Z" fill="#F4F408" stroke="#000" stroke-opacity=".5" stroke-width=".4"/>
<path d="M303.5,311.6 307.0,311.7 309.5,312.3 311.3,313.1 312.8,314.1 313.8,315.1 314.9,316.6 315.5,318.1 315.6,319.6 315.5,321.1 314.9,322.6 313.8,324.1 312.1,325.6 311.0,326.2 309.5,326.9 306.5,327.6 304.5,327.7 302.5,327.5 300.5,327.0 298.5,326.1 297.0,325.1 295.5,323.5 294.7,322.1 294.2,320.6 294.2,319.1 294.7,317.1 295.5,315.7 297.0,314.1 299.5,312.6 301.0,312.1ZM347.4,319.6 348.5,319.2 350.0,319.3 351.0,319.6 351.0,320.6 349.5,321.0 348.5,321.0 347.4,320.6 347.0,320.1Z" fill="#F84008" stroke="#000" stroke-opacity=".5" stroke-width=".4"/>
<path d="M302.0,315.6 304.0,315.2 306.5,315.3 309.0,316.1 310.7,317.6 311.5,319.6 311.0,321.1 309.7,322.6 309.0,323.1 308.0,323.4 305.5,324.0 304.0,324.0 302.0,323.6 300.0,322.6 299.0,321.6 298.5,320.6 298.5,318.6 299.0,317.6 300.0,316.6Z" fill="#8C0000" stroke="#000" stroke-opacity=".5" stroke-width=".4"/>
<text x="232.0" y="286.5" text-anchor="end" font-size="10">20</text>
<text x="232.0" y="303.8" text-anchor="end" font-size="10">15</text>
<text x="232.0" y="321.1" text-anchor="end" font-size="10">10</text>
<text x="232.0" y="338.4" text-anchor="end" font-size="10">5</text>
<text x="232.0" y="355.7" text-anchor="end" font-size="10">0</text>
<text x="233.5" y="364.1" text-anchor="middle" font-size="10">0</text>
<text x="268.1" y="364.1" text-anchor="middle" font-size="10">10</text>
<text x="302.8" y="364.1" text-anchor="middle" font-size="10">20</text>
<text x="337.4" y="364.1" text-anchor="middle" font-size="10">30</text>
<text x="372.0" y="364.1" text-anchor="middle" font-size="10">40</text>
<text x="215.0" y="320.5" text-anchor="middle" font-size="10" transform="rotate(-90 215.0 320.5)"><tspan font-style="italic">y</tspan>/km</text>
<text x="303.1" y="376.6" text-anchor="middle" font-size="10"><tspan font-style="italic">x</tspan>/km</text>
<text x="306.0" y="386.4" text-anchor="middle" font-size="7">(<tspan font-weight="bold">f</tspan>)</text>
<rect x="385.8" y="283.9" width="6.2" height="68.8" fill="url(#jetb)"/>
<text x="388.8" y="282.0" text-anchor="middle" font-size="8">E</text>
<text x="394.8" y="287.3" text-anchor="start" font-size="8.8">250</text>
<text x="394.8" y="300.3" text-anchor="start" font-size="8.8">200</text>
<text x="394.8" y="313.4" text-anchor="start" font-size="8.8">150</text>
<text x="394.8" y="326.4" text-anchor="start" font-size="8.8">100</text>
<text x="394.8" y="339.5" text-anchor="start" font-size="8.8">50</text>
<text x="394.8" y="352.5" text-anchor="start" font-size="8.8">0</text>
<rect x="30.8" y="148.1" width="133.5" height="81.7" fill="#00008F"/>
<path d="M38.1,148.1 67.4,148.1 68.8,154.6 69.8,157.7 70.8,159.0 71.8,158.9 72.8,157.8 73.8,156.1 77.7,148.1 120.9,148.1 123.8,153.2 124.8,154.3 125.8,154.3 126.8,152.8 128.2,148.1 156.0,148.1 157.6,159.1 158.6,172.1 159.0,182.1 159.0,199.1 158.3,214.1 157.3,224.1 156.5,229.8 38.0,229.8 36.9,224.1 35.4,210.1 35.0,200.1 34.9,188.1 35.3,172.1 36.4,159.1Z" fill="#000095"/>
<path d="M39.7,149.1 39.9,148.1 65.6,148.1 68.8,165.5 69.8,167.7 70.8,168.0 71.8,167.0 72.8,165.3 78.0,153.1 80.4,148.1 118.2,148.1 123.8,159.9 124.8,161.4 125.8,162.0 126.8,161.1 127.8,158.1 129.9,148.1 154.5,148.1 156.1,159.1 157.0,172.1 157.4,183.1 157.2,198.1 156.3,213.1 155.0,223.1 153.7,229.8 41.2,229.8 40.4,227.1 39.6,223.1 38.0,212.1 37.2,203.1 36.9,192.1 36.8,183.1 37.1,172.1 38.0,159.1Z" fill="#0000A3"/>
<path d="M41.0,148.1 64.4,148.1 66.4,159.1 66.8,163.2 67.8,169.8 68.8,173.5 69.8,174.8 70.8,174.4 71.8,172.9 72.8,170.9 78.1,157.1 80.2,152.1 82.2,148.1 116.4,148.1 119.3,154.1 123.8,164.9 124.8,166.6 125.8,167.7 126.8,167.4 127.8,165.3 130.9,148.1 153.4,148.1 154.5,154.1 155.2,159.1 155.4,162.1 156.0,172.1 156.2,179.1 156.2,191.1 155.7,203.1 155.1,211.1 153.3,223.1 152.5,227.1 151.7,229.8 68.8,229.8 67.8,226.7 66.8,225.8 65.8,226.5 63.6,229.8 43.5,229.8 42.6,227.1 41.5,223.1 39.6,212.1 38.6,202.1 38.1,192.1 37.9,183.1 38.2,172.1 39.1,159.1 40.2,152.1Z" fill="#0000B1"/>
<path d="M41.7,149.1 41.9,148.1 63.5,148.1 64.4,152.1 65.5,159.1 66.8,171.1 67.8,177.7 68.8,180.5 69.8,180.9 70.8,179.9 72.8,175.6 79.4,157.1 81.6,152.1 83.6,148.1 115.0,148.1 117.0,152.1 119.2,157.1 123.8,169.1 124.8,171.1 125.8,172.4 126.8,172.5 127.8,170.9 128.8,166.8 130.1,157.1 131.7,148.1 152.7,148.1 153.4,152.1 154.4,159.1 155.3,172.1 155.5,183.1 155.3,194.1 154.5,206.1 153.7,213.1 151.7,224.1 150.9,227.1 150.0,229.8 131.5,229.8 130.8,229.1 129.8,229.0 129.1,229.8 71.2,229.8 69.8,216.6 68.8,212.6 67.8,211.9 66.8,213.4 65.8,215.8 64.9,218.1 63.1,224.1 61.9,227.1 60.5,229.8 45.7,229.8 44.4,227.1 43.4,224.1 41.2,214.1 40.0,206.1 39.2,195.1 38.8,183.1 39.1,172.1 40.0,159.1Z" fill="#0000BF"/>
<path d="M42.6,148.1 62.7,148.1 63.2,150.1 64.8,159.1 66.7,179.1 67.5,184.1 67.5,192.1 67.2,196.1 66.5,202.1 65.2,210.1 64.2,214.1 62.9,218.1 62.1,221.1 60.2,226.1 59.1,228.1 57.9,229.8 48.0,229.8 46.2,227.1 45.0,224.1 42.3,214.1 41.2,208.1 40.4,200.1 39.9,192.1 39.6,182.1 39.8,172.1 40.6,159.1 41.6,153.1ZM84.2,149.1 84.8,148.1 113.8,148.1 115.4,151.1 118.1,157.1 122.8,170.1 124.8,175.1 125.8,176.7 126.8,177.3 127.8,176.2 128.8,172.2 129.8,165.7 130.4,159.1 132.4,148.1 152.0,148.1 153.1,154.1 153.8,159.1 154.6,172.1 154.8,183.1 154.4,196.1 153.7,206.1 153.0,212.1 151.2,221.1 149.9,226.1 148.3,229.8 134.8,229.8 133.2,227.1 129.8,219.5 128.8,219.1 127.8,221.3 126.4,229.8 72.7,229.8 71.3,211.1 70.7,196.1 71.0,185.1 71.2,184.1 72.8,179.9 77.2,166.1 79.4,160.1 81.4,155.1Z" fill="#0000CD"/>
<path d="M43.3,148.1 62.1,148.1 63.0,152.1 64.2,159.1 65.3,172.1 66.2,184.1 66.0,191.1 65.2,201.1 64.3,207.1 63.6,211.1 62.5,215.1 60.5,221.1 58.8,225.1 56.8,228.0 54.8,229.5 53.8,229.8 51.8,229.8 49.8,228.8 48.8,227.9 47.8,226.5 46.1,223.1 43.6,215.1 42.6,211.1 41.8,206.1 41.1,199.1 40.5,190.1 40.2,182.1 40.4,172.1 41.2,159.1 42.4,152.1ZM85.3,149.1 85.8,148.1 112.8,148.1 114.4,151.1 117.1,157.1 120.4,166.1 122.8,173.4 124.8,178.8 125.8,180.8 126.8,181.8 127.8,181.2 128.8,178.1 129.8,171.1 131.1,158.1 132.9,148.1 151.5,148.1 152.3,152.1 153.3,159.1 154.1,172.1 154.3,182.1 154.2,187.1 153.5,200.1 152.6,209.1 151.6,215.1 149.9,222.1 149.0,225.1 147.8,227.9 146.6,229.8 137.0,229.8 135.8,228.1 134.3,225.1 133.2,222.1 132.0,218.1 128.8,209.4 127.8,208.9 126.8,213.0 126.1,218.1 125.0,229.8 73.9,229.8 72.8,212.1 72.6,206.1 72.3,195.1 72.6,185.1 74.5,178.1 78.2,166.1 81.5,157.1 83.2,153.1Z" fill="#0000DC"/>
<path d="M43.6,149.1 43.9,148.1 61.5,148.1 62.5,152.1 63.7,159.1 64.7,172.1 65.3,184.1 65.1,190.1 64.3,200.1 63.1,208.1 61.6,214.1 58.6,222.1 56.8,225.1 55.8,226.2 54.8,226.9 53.8,227.3 52.8,227.5 51.8,227.3 50.8,226.9 49.8,226.1 48.2,224.1 46.8,221.3 44.6,215.1 43.3,210.1 42.3,204.1 41.6,197.1 40.8,182.1 40.9,172.1 41.8,159.1 42.5,154.1ZM86.8,148.1 111.8,148.1 114.5,153.1 117.0,159.1 119.6,166.1 123.8,179.6 125.5,184.1 125.9,187.1 126.2,195.1 125.3,211.1 123.8,229.8 113.8,229.8 74.9,229.8 73.8,212.1 73.6,202.1 73.4,195.1 73.6,186.1 73.8,184.1 77.2,172.1 80.5,162.1 83.2,155.1 85.1,151.1ZM133.4,148.1 150.9,148.1 152.3,155.1 152.8,159.1 153.2,164.1 153.6,172.1 153.7,178.1 153.6,188.1 152.9,200.1 152.1,208.1 150.7,215.1 148.2,224.1 147.3,226.1 146.0,228.1 144.8,229.4 144.2,229.8 139.7,229.8 138.7,229.1 137.0,227.1 135.0,223.1 132.4,215.1 131.3,211.1 130.1,205.1 128.9,196.1 128.6,189.1 128.5,185.1 129.8,177.4 131.5,159.1 132.4,153.1Z" fill="#0000EA"/>
<path d="M44.4,148.1 61.0,148.1 62.4,154.1 63.2,159.1 64.2,172.1 64.6,183.1 64.3,191.1 63.3,201.1 62.0,209.1 60.6,214.1 57.8,220.5 56.8,222.2 55.8,223.5 54.8,224.3 53.8,224.8 52.8,225.0 51.8,224.8 50.8,224.3 49.8,223.5 48.8,222.2 47.8,220.3 45.6,215.1 44.3,211.1 43.5,207.1 42.4,199.1 41.6,189.1 41.3,182.1 41.4,173.1 42.2,159.1 43.4,152.1ZM87.7,148.1 110.9,148.1 113.7,153.1 116.3,159.1 119.1,167.1 122.4,178.1 124.4,185.1 124.7,195.1 124.2,211.1 122.9,229.8 111.8,229.8 75.8,229.8 74.7,212.1 74.6,206.1 74.4,195.1 74.6,186.1 74.7,184.1 78.0,172.1 81.2,162.1 84.4,154.1ZM133.7,149.1 133.9,148.1 150.5,148.1 151.4,152.1 152.4,159.1 153.2,172.1 153.3,183.1 152.9,193.1 152.2,202.1 150.9,211.1 150.0,215.1 148.4,220.1 146.8,224.4 145.8,226.0 144.8,227.2 143.8,227.9 142.8,228.3 141.8,228.4 140.8,228.2 139.8,227.7 138.1,226.1 136.9,224.1 136.0,222.1 133.5,215.1 132.4,211.1 131.4,206.1 130.1,195.1 129.8,184.1 131.9,159.1Z" fill="#0000F8"/>
<path d="M44.6,149.1 44.9,148.1 60.5,148.1 62.1,155.1 62.8,159.1 63.7,172.1 64.1,183.1 63.6,191.1 62.6,201.1 61.4,208.1 59.8,213.5 58.8,215.8 57.8,217.6 55.8,220.8 54.8,221.8 53.8,222.4 52.8,222.5 51.8,222.4 50.8,221.8 49.8,220.8 48.8,219.3 46.5,215.1 45.1,211.1 44.2,207.1 43.2,201.1 42.4,193.1 41.8,183.1 41.8,178.1 41.8,172.1 42.6,159.1 43.7,153.1ZM88.5,148.1 110.1,148.1 112.4,152.1 115.2,158.1 118.1,166.1 121.7,178.1 123.4,185.1 123.7,195.1 123.2,212.1 122.1,229.8 110.8,229.8 76.6,229.8 75.5,211.1 75.2,195.1 75.5,184.1 78.4,173.1 81.6,163.1 83.4,158.1 85.2,154.1 86.7,151.1ZM134.3,148.1 150.1,148.1 151.5,155.1 152.1,159.1 152.8,172.1 152.9,183.1 152.2,196.1 151.3,205.1 150.1,212.1 148.9,216.1 147.1,221.1 146.1,223.1 144.8,225.0 143.8,225.8 142.8,226.3 141.8,226.4 140.8,226.1 139.8,225.5 138.8,224.6 137.8,223.1 136.8,221.1 134.5,215.1 133.3,211.1 132.3,206.1 131.1,196.1 130.5,184.1 132.3,159.1 133.4,152.1Z" fill="#0007FF"/>
<path d="M45.4,148.1 60.0,148.1 61.1,152.1 62.0,157.1 62.4,159.1 63.3,172.1 63.5,183.1 63.2,190.1 62.2,199.1 61.1,206.1 59.4,212.1 58.6,214.1 57.5,216.1 54.8,219.2 53.8,219.9 52.8,220.1 51.8,219.9 50.8,219.3 48.2,216.1 46.8,213.5 45.4,209.1 44.3,204.1 43.3,197.1 42.4,187.1 42.2,182.1 42.2,172.1 43.0,159.1 44.3,152.1ZM88.6,149.1 89.3,148.1 109.3,148.1 111.7,152.1 114.1,157.1 117.1,165.1 118.4,169.1 122.5,184.1 122.7,186.1 122.9,195.1 122.5,211.1 121.3,229.8 112.8,229.8 77.3,229.8 76.2,211.1 75.9,195.1 76.2,184.1 79.3,172.1 81.5,165.1 84.5,157.1 86.4,153.1ZM134.7,148.1 149.7,148.1 150.6,152.1 151.4,157.1 151.7,159.1 152.5,172.1 152.6,181.1 152.3,188.1 151.7,197.1 150.8,205.1 149.7,211.1 148.5,215.1 145.9,221.1 144.8,222.8 143.8,223.7 142.8,224.2 141.8,224.3 140.8,224.1 139.8,223.4 138.8,222.2 137.8,220.6 135.8,216.2 134.6,213.1 133.4,208.1 132.6,203.1 131.5,193.1 131.1,183.1 131.7,172.1 132.6,159.1 133.6,153.1Z" fill="#0015FF"/>
<path d="M45.6,149.1 45.9,148.1 59.5,148.1 60.4,151.1 61.3,155.1 62.0,159.1 62.9,172.1 63.0,185.1 62.3,194.1 61.2,202.1 59.6,209.1 57.8,213.6 56.8,215.2 55.8,216.4 54.8,217.2 53.8,217.6 52.8,217.8 51.8,217.7 50.8,217.2 49.8,216.4 48.8,215.2 47.6,213.1 46.1,209.1 44.9,204.1 43.7,196.1 42.9,188.1 42.6,182.1 42.6,172.1 43.4,159.1 44.5,153.1ZM89.4,149.1 90.1,148.1 108.5,148.1 111.6,153.1 114.3,159.1 117.2,167.1 120.3,178.1 121.9,185.1 122.2,195.1 121.7,212.1 120.6,229.8 110.8,229.8 78.0,229.8 76.9,211.1 76.5,195.1 76.9,184.1 80.0,172.1 82.4,164.1 85.6,156.1 87.6,152.1ZM135.1,148.1 149.3,148.1 150.2,152.1 151.3,158.1 152.1,172.1 152.2,182.1 151.4,196.1 150.4,204.1 149.3,210.1 147.8,215.0 145.7,219.1 144.3,221.1 143.8,221.6 142.8,222.2 141.8,222.3 140.8,222.0 139.8,221.2 138.9,220.1 136.7,216.1 135.4,213.1 134.3,209.1 133.2,203.1 132.1,193.1 131.6,185.1 131.6,182.1 132.0,172.1 133.0,159.1 134.1,152.1Z" fill="#0023FF"/>
<path d="M46.3,148.1 59.1,148.1 60.3,152.1 61.5,158.1 62.5,172.1 62.6,183.1 62.2,189.1 61.4,197.1 60.1,204.1 58.8,209.1 57.8,211.5 56.8,213.4 55.3,215.1 53.8,216.1 52.8,216.2 51.8,216.1 50.8,215.6 49.8,214.7 48.1,212.1 46.8,209.0 45.7,205.1 44.7,200.1 43.7,192.1 43.1,184.1 43.0,172.1 43.8,159.1 45.1,152.1ZM90.1,149.1 90.9,148.1 107.7,148.1 110.4,152.1 113.3,158.1 116.3,166.1 119.7,178.1 121.3,185.1 121.5,195.1 121.1,212.1 119.9,229.8 109.8,229.8 78.7,229.8 77.5,211.1 77.1,195.1 77.5,184.1 80.5,172.1 83.4,163.1 86.6,155.1 88.2,152.1ZM135.5,148.1 148.9,148.1 149.9,152.1 150.9,158.1 151.8,172.1 151.8,175.1 151.8,183.1 151.2,194.1 150.3,202.1 149.0,209.1 147.8,213.1 146.8,215.4 145.8,217.1 143.8,219.5 142.8,220.1 141.8,220.2 140.8,219.9 139.8,219.0 138.8,217.8 137.8,216.4 136.8,214.6 135.5,211.1 134.5,207.1 133.4,201.1 132.5,193.1 132.0,185.1 132.4,172.1 133.3,159.1 134.5,152.1Z" fill="#0032FF"/>
<path d="M46.8,148.1 58.6,148.1 59.9,152.1 61.3,159.1 62.1,172.1 62.2,182.1 62.0,187.1 61.1,195.1 60.0,202.1 58.7,207.1 57.8,209.5 56.8,211.5 55.7,213.1 54.8,214.0 53.8,214.5 52.8,214.7 51.8,214.5 50.8,214.0 49.8,213.1 48.8,211.6 48.0,210.1 46.9,207.1 45.8,202.8 44.9,198.1 44.1,191.1 43.4,183.1 43.3,172.1 44.1,159.1 45.5,152.1ZM91.7,148.1 106.9,148.1 107.7,149.1 109.7,152.1 111.4,155.1 113.1,159.1 115.0,164.1 117.5,172.1 120.5,184.1 120.9,195.1 120.6,211.1 119.3,229.8 107.8,229.8 79.3,229.8 78.1,211.1 77.7,195.1 78.1,184.1 79.5,178.1 81.1,172.1 82.9,166.1 84.3,162.1 86.3,157.1 87.8,154.1 89.8,150.6ZM135.6,149.1 135.9,148.1 148.5,148.1 149.6,152.1 150.5,157.1 150.8,159.1 151.5,172.1 151.5,183.1 151.1,190.1 150.2,199.1 149.1,206.1 147.8,211.2 146.1,215.1 144.8,216.8 143.8,217.6 142.8,218.1 141.8,218.2 140.8,217.9 139.8,217.3 138.8,216.3 137.4,214.1 136.2,211.1 135.1,207.1 134.1,202.1 133.0,193.1 132.5,186.1 132.4,182.1 132.7,172.1 133.6,159.1 134.6,153.1Z" fill="#0040FF"/>
<path d="M47.2,148.1 58.2,148.1 59.5,152.1 60.9,159.1 61.8,172.1 61.8,183.1 61.4,189.1 60.3,197.1 59.1,203.1 57.8,207.5 56.8,209.7 55.9,211.1 54.8,212.3 53.8,213.0 52.8,213.2 51.8,213.0 50.8,212.4 49.8,211.4 48.4,209.1 47.0,205.1 45.8,200.2 45.0,195.1 43.8,183.1 43.7,172.1 44.5,159.1 45.9,152.1ZM91.6,149.1 92.5,148.1 106.1,148.1 107.0,149.1 108.8,151.6 110.8,155.1 112.2,158.1 114.1,163.1 115.2,166.1 117.0,172.1 120.0,184.1 120.4,195.1 120.0,211.1 118.7,229.8 108.8,229.8 79.9,229.8 78.6,211.1 78.3,195.1 78.6,184.1 80.0,178.1 81.6,172.1 83.4,166.1 84.5,163.1 86.4,158.1 87.8,155.1 89.8,151.6ZM136.2,148.1 148.2,148.1 149.3,152.1 150.4,158.1 151.3,172.1 151.2,183.1 150.7,191.1 150.0,198.1 148.8,205.2 147.5,210.1 146.8,212.1 145.8,214.1 144.8,215.4 143.8,216.3 142.8,216.8 141.8,216.8 140.8,216.6 139.8,215.9 138.8,214.8 137.3,212.1 136.2,209.1 135.2,205.1 134.1,199.1 133.3,192.1 132.8,184.1 133.0,172.1 133.9,159.1 135.1,152.1Z" fill="#004EFF"/>
<path d="M47.7,148.1 57.7,148.1 59.1,152.1 60.6,159.1 61.5,172.1 61.5,182.1 61.2,186.1 60.3,194.1 59.3,200.1 57.8,205.4 56.1,209.1 54.8,210.7 53.8,211.4 52.8,211.6 51.8,211.4 50.8,210.8 49.8,209.7 48.8,208.0 47.3,204.1 46.1,199.1 45.3,194.1 44.1,183.1 44.0,172.1 44.8,159.1 46.3,152.1ZM92.4,149.1 93.4,148.1 105.2,148.1 107.1,150.1 109.1,153.1 111.2,157.1 114.4,165.1 117.3,175.1 119.5,184.1 119.8,195.1 119.5,211.1 118.2,229.8 107.8,229.8 80.4,229.8 79.1,211.1 78.8,195.1 79.2,184.1 80.5,178.1 82.1,172.1 83.9,166.1 85.3,162.1 87.4,157.1 88.8,154.3 90.8,151.1ZM136.5,148.1 147.8,148.1 149.0,152.1 150.2,159.1 151.0,172.1 151.0,182.1 150.4,190.1 149.6,198.1 148.6,204.1 147.3,209.1 145.8,212.6 144.7,214.1 143.8,215.0 142.8,215.5 141.8,215.6 140.8,215.3 139.8,214.5 138.8,213.3 137.6,211.1 136.2,207.1 135.3,203.1 134.4,198.1 133.6,191.1 133.1,184.1 133.3,172.1 134.1,159.1 135.4,152.1Z" fill="#005CFF"/>
<path d="M47.7,149.1 48.2,148.1 57.2,148.1 58.8,152.1 60.3,159.1 61.1,172.1 61.0,184.1 60.3,191.1 59.3,197.1 58.2,202.1 56.8,206.1 55.6,208.1 54.8,209.1 53.8,209.8 52.8,210.1 51.8,209.9 50.8,209.2 49.3,207.1 47.8,203.6 46.8,200.0 45.8,194.8 44.5,183.1 44.3,172.1 45.1,159.1 46.4,153.1ZM93.2,149.1 94.3,148.1 104.3,148.1 105.8,149.5 107.1,151.1 108.8,153.6 110.7,157.1 114.3,166.1 117.4,177.1 119.0,184.1 119.4,195.1 119.0,211.1 117.7,229.8 106.8,229.8 80.9,229.8 79.6,211.1 79.3,195.1 79.7,184.1 81.0,178.1 82.6,172.1 84.3,166.1 85.5,163.1 87.5,158.1 88.9,155.1 90.8,152.0ZM136.6,149.1 136.9,148.1 147.5,148.1 148.7,152.1 150.0,159.1 150.7,172.1 150.7,182.1 150.3,188.1 149.5,196.1 148.5,202.1 147.3,207.1 145.8,211.1 144.4,213.1 143.8,213.7 142.8,214.2 141.8,214.3 140.8,213.9 139.8,213.2 138.4,211.1 136.8,207.2 135.8,203.1 134.8,198.1 134.1,192.1 133.5,184.1 133.6,172.1 134.4,159.1 135.5,153.1Z" fill="#006AFF"/>
<path d="M48.6,148.1 56.8,148.1 58.4,152.1 60.0,159.1 60.8,172.1 60.8,182.1 60.6,185.1 59.7,192.1 58.6,198.1 57.5,202.1 56.8,204.1 55.8,206.2 54.8,207.5 53.8,208.3 52.8,208.6 51.8,208.3 50.8,207.6 49.8,206.3 48.8,204.4 47.4,200.1 46.3,195.1 45.4,189.1 44.7,182.1 44.6,172.1 45.4,159.1 47.0,152.1ZM94.0,149.1 95.4,148.1 103.2,148.1 104.8,149.3 107.2,152.1 110.2,157.1 113.8,166.1 117.2,178.1 118.5,184.1 118.9,195.1 118.5,211.1 117.1,229.8 105.8,229.8 81.5,229.8 80.1,211.1 79.7,195.1 80.1,184.1 81.4,178.1 83.0,172.1 84.8,166.1 86.3,162.1 88.4,157.1 89.8,154.6 91.8,151.5ZM137.2,148.1 147.2,148.1 148.4,152.1 149.7,159.1 150.5,172.1 150.4,182.1 149.9,189.1 149.0,197.1 147.8,203.4 146.4,208.1 144.9,211.1 143.8,212.3 142.8,212.9 141.8,213.0 140.8,212.6 140.2,212.1 138.8,210.4 137.7,208.1 136.5,204.1 135.4,199.1 134.6,193.1 133.7,183.1 133.8,172.1 134.7,159.1 136.0,152.1Z" fill="#0078FF"/>
<path d="M48.6,149.1 49.2,148.1 56.2,148.1 58.0,152.1 59.7,159.1 60.5,172.1 60.4,183.1 59.6,190.1 58.6,196.1 57.6,200.1 56.0,204.1 54.8,205.9 53.8,206.7 52.8,207.0 51.8,206.8 50.9,206.1 49.8,204.6 48.8,202.6 47.7,199.1 46.7,195.1 45.8,189.2 45.1,182.1 44.9,172.1 45.7,159.1 47.1,153.1ZM95.0,149.1 96.8,148.1 101.8,148.1 103.6,149.1 104.8,150.1 106.6,152.1 107.8,153.9 110.1,158.1 113.3,166.1 116.5,177.1 118.0,184.1 118.4,195.1 118.0,211.1 116.6,229.8 104.8,229.8 82.0,229.8 80.6,211.1 80.2,195.1 80.6,184.1 81.9,178.1 83.5,172.1 85.3,166.1 87.2,161.1 89.0,157.1 90.8,153.9 92.8,151.2ZM137.6,148.1 146.8,148.1 148.1,152.1 149.5,159.1 150.2,172.1 150.1,182.1 149.9,186.1 149.0,194.1 148.1,200.1 146.8,205.3 145.2,209.1 143.8,211.0 142.8,211.6 141.8,211.7 140.8,211.3 139.6,210.1 138.8,208.9 138.0,207.1 137.0,204.1 135.8,199.1 135.1,194.1 134.0,183.1 134.1,172.1 134.9,159.1 136.3,152.1Z" fill="#0087FF"/>
<path d="M49.7,148.1 55.7,148.1 56.8,150.1 57.6,152.1 59.4,159.1 60.2,172.1 60.0,184.1 59.0,191.1 57.8,197.2 56.6,201.1 55.8,202.8 54.9,204.1 53.8,205.2 52.8,205.5 51.8,205.2 50.8,204.4 49.4,202.1 48.2,199.1 47.2,195.1 46.3,190.1 45.5,183.1 45.2,172.1 46.0,159.1 47.8,152.1 48.8,149.7ZM96.2,149.1 97.8,148.5 98.8,148.3 100.8,148.5 101.8,148.8 103.8,150.0 104.8,150.9 106.7,153.1 108.0,155.1 110.1,159.1 112.9,166.1 116.3,178.1 117.7,185.1 118.0,195.1 117.6,211.1 116.2,229.8 102.8,229.8 82.4,229.8 82.1,226.1 81.1,212.1 80.6,196.1 80.9,186.1 81.0,184.1 82.3,178.1 84.2,171.1 85.7,166.1 88.1,160.1 89.8,156.5 91.8,153.3 93.8,150.9ZM137.5,149.1 138.0,148.1 146.4,148.1 147.8,152.1 149.2,159.1 150.0,172.1 149.9,182.1 149.7,185.1 149.0,192.1 147.9,199.1 146.8,203.6 145.5,207.1 144.8,208.5 143.8,209.7 142.8,210.3 141.8,210.4 140.8,210.0 139.8,209.0 138.7,207.1 137.2,203.1 136.3,199.1 135.4,194.1 134.3,183.1 134.3,172.1 135.1,159.1 136.3,153.1Z" fill="#0095FF"/>
<path d="M49.7,149.1 50.4,148.1 55.0,148.1 55.8,149.2 57.2,152.1 59.1,159.1 59.9,172.1 59.7,183.1 59.0,189.1 58.0,194.1 56.8,198.7 55.8,201.1 54.8,202.7 53.8,203.6 52.8,203.9 51.8,203.7 50.8,202.8 49.8,201.3 48.8,199.0 47.8,195.6 46.8,190.7 46.0,185.1 45.7,182.1 45.5,172.1 46.3,159.1 47.8,153.1 48.8,150.6ZM98.2,149.1 99.8,149.0 100.8,149.2 102.8,150.1 103.8,150.8 106.0,153.1 108.6,157.1 111.3,163.1 113.4,169.1 115.9,178.1 117.1,184.1 117.3,186.1 117.5,195.1 117.1,211.1 115.7,229.8 100.8,229.8 82.9,229.8 81.5,211.1 81.1,195.1 81.3,186.1 81.5,184.1 82.8,178.1 84.3,172.1 86.1,166.1 87.3,163.1 89.5,158.1 90.8,155.7 92.8,152.8 94.8,150.8 96.8,149.5ZM138.3,148.1 146.1,148.1 147.5,152.1 149.0,159.1 149.7,172.1 149.6,182.1 149.1,188.1 148.2,195.1 147.0,201.1 145.8,205.0 144.8,207.1 144.0,208.1 142.8,209.0 141.8,209.2 140.8,208.7 139.8,207.7 138.8,205.9 137.4,202.1 136.5,198.1 135.6,193.1 134.9,187.1 134.6,182.1 134.6,172.1 135.4,159.1 136.9,152.1Z" fill="#00A3FF"/>
<path d="M50.3,149.1 51.4,148.1 54.0,148.1 54.8,148.7 55.8,150.0 56.9,152.1 57.8,155.0 58.8,159.1 59.6,172.1 59.4,183.1 58.6,189.1 57.6,194.1 56.3,198.1 55.8,199.4 54.8,201.1 53.8,202.1 52.8,202.4 51.8,202.2 50.8,201.3 49.8,199.7 48.8,197.2 47.8,193.6 46.8,188.3 46.1,183.1 45.8,172.1 46.6,159.1 47.6,155.1 48.6,152.1 49.6,150.1ZM138.7,148.1 145.7,148.1 147.3,152.1 148.8,159.1 149.5,172.1 149.2,184.1 148.5,191.1 147.5,197.1 146.3,202.1 144.8,205.7 143.8,207.0 142.8,207.8 141.8,207.9 140.8,207.4 139.8,206.3 139.1,205.1 137.8,201.7 136.8,197.8 136.0,193.1 135.2,187.1 134.8,182.1 134.8,172.1 135.6,159.1 137.1,152.1ZM97.2,150.1 98.8,149.7 99.8,149.7 101.4,150.1 102.8,150.8 104.4,152.1 105.8,153.6 108.1,157.1 111.3,164.1 113.3,170.1 115.4,178.1 116.7,184.1 116.9,186.1 117.1,195.1 116.7,211.1 115.2,229.8 101.8,229.8 83.4,229.8 82.0,212.1 81.5,195.1 81.7,186.1 81.9,184.1 83.2,178.1 86.6,166.1 90.0,158.1 91.8,155.0 93.8,152.5 95.8,150.8Z" fill="#00B1FF"/>
<path d="M51.1,149.1 51.8,148.6 52.8,148.4 53.8,148.7 54.8,149.5 55.8,150.9 56.8,153.0 58.5,159.1 59.4,172.1 59.1,182.1 58.2,189.1 57.3,193.1 56.4,196.1 55.6,198.1 54.8,199.6 54.3,200.1 53.8,200.6 52.8,201.0 51.8,200.7 50.8,199.7 49.8,198.0 48.8,195.4 47.8,191.6 46.8,186.1 46.4,182.1 46.1,172.1 46.9,159.1 47.8,155.5 48.8,152.5 49.8,150.6ZM138.6,149.1 139.1,148.1 145.3,148.1 147.0,152.1 148.5,159.1 149.3,172.1 149.1,183.1 148.3,190.1 147.3,196.1 146.1,201.1 144.9,204.1 143.8,205.7 142.8,206.5 141.8,206.6 140.8,206.1 139.8,204.9 138.5,202.1 137.3,198.1 136.3,193.1 135.5,187.1 135.1,182.1 135.1,172.1 135.8,159.1 137.2,153.1ZM96.6,151.1 98.8,150.4 100.8,150.6 101.8,151.0 103.5,152.1 104.8,153.3 107.6,157.1 109.8,161.7 111.9,167.1 115.0,178.1 116.4,185.1 116.7,195.1 116.3,211.1 114.8,229.8 102.8,229.8 83.8,229.8 82.9,219.1 82.3,211.1 81.9,196.1 82.1,186.1 82.3,184.1 83.6,178.1 85.2,172.1 87.0,166.1 88.6,162.1 90.8,157.5 92.3,155.1 94.8,152.3Z" fill="#00BFFF"/>
<path d="M139.6,148.1 144.8,148.1 145.8,149.9 146.7,152.1 148.3,159.1 149.1,172.1 148.7,184.1 147.9,191.1 146.8,196.9 145.8,200.5 144.8,202.9 144.0,204.1 142.8,205.2 141.8,205.3 140.8,204.8 140.3,204.1 138.8,201.5 137.8,198.5 136.8,194.0 136.0,189.1 135.4,183.1 135.3,172.1 136.1,159.1 137.7,152.1 138.8,149.4ZM50.8,150.1 51.8,149.4 52.8,149.2 53.8,149.5 54.8,150.3 55.8,151.8 56.8,154.1 58.2,159.1 59.1,172.1 58.8,182.1 57.8,188.9 56.8,193.2 55.8,196.1 54.8,198.0 53.8,199.1 52.8,199.5 51.8,199.2 50.8,198.2 49.8,196.4 48.8,193.6 47.8,189.5 46.7,182.1 46.3,172.1 47.2,159.1 48.8,153.5 49.8,151.4ZM96.1,152.1 97.8,151.3 98.8,151.1 100.8,151.3 101.8,151.7 103.8,153.1 104.8,154.1 107.1,157.1 109.5,162.1 111.5,167.1 114.6,178.1 116.0,185.1 116.3,195.1 115.9,211.1 114.3,229.8 102.8,229.8 84.3,229.8 83.5,221.1 82.7,211.1 82.3,196.1 82.5,186.1 82.7,184.1 84.0,178.1 85.6,172.1 87.4,166.1 88.6,163.1 90.5,159.1 91.8,156.7 93.8,154.1Z" fill="#00CDFF"/>
<path d="M139.4,149.1 140.1,148.1 144.3,148.1 145.5,150.1 146.4,152.1 148.1,159.1 148.8,172.1 148.6,183.1 147.8,189.6 146.8,195.1 145.8,199.0 144.8,201.5 143.8,203.1 142.8,203.9 141.8,204.0 140.8,203.5 139.8,202.2 138.8,200.0 137.6,196.1 136.6,191.1 135.9,185.1 135.6,182.1 135.5,172.1 136.3,159.1 137.8,152.8 138.8,150.2ZM52.1,150.1 52.8,150.0 53.8,150.3 54.8,151.2 55.8,152.7 57.1,156.1 57.9,159.1 58.8,172.1 58.4,183.1 57.1,190.1 55.8,194.4 54.8,196.4 53.8,197.6 52.8,198.0 51.8,197.7 50.8,196.6 49.8,194.7 48.4,190.1 47.1,183.1 46.6,172.1 47.5,159.1 47.7,158.1 48.8,154.6 49.8,152.3 50.8,150.9ZM97.6,152.1 98.8,151.8 99.8,151.8 101.8,152.4 102.8,153.0 104.1,154.1 105.8,156.1 107.6,159.1 110.8,166.1 112.7,172.1 114.2,178.1 115.5,184.1 115.7,186.1 115.9,195.1 115.5,211.1 113.9,229.8 101.8,229.8 84.7,229.8 83.2,212.1 82.7,195.1 82.9,186.1 83.1,184.1 84.4,178.1 85.9,172.1 87.8,166.1 90.8,159.4 92.1,157.1 93.8,154.8 95.8,153.0Z" fill="#00DCFF"/>
<path d="M140.8,148.1 143.6,148.1 143.8,148.2 145.1,150.1 146.4,153.1 147.9,159.1 148.6,172.1 148.3,183.1 147.3,191.1 145.8,197.5 144.8,200.2 143.5,202.1 142.8,202.6 141.8,202.8 140.8,202.2 139.8,200.8 138.8,198.6 137.8,195.2 137.0,191.1 135.9,182.1 135.7,172.1 136.5,159.1 137.4,155.1 138.3,152.1 139.8,149.2ZM51.6,151.1 52.8,150.7 53.8,151.1 54.8,152.0 55.8,153.7 56.8,156.2 57.6,159.1 58.5,172.1 58.1,182.1 57.5,186.1 56.8,189.5 55.8,192.8 54.8,194.9 53.8,196.1 52.8,196.5 51.8,196.2 50.8,195.1 49.8,193.1 48.3,188.1 47.3,182.1 46.9,172.1 47.8,159.1 48.8,155.7 49.8,153.3 50.8,151.7ZM96.9,153.1 98.8,152.5 99.8,152.5 101.8,153.1 103.2,154.1 104.8,155.6 106.8,158.5 109.8,164.7 111.7,170.1 113.9,178.1 115.1,184.1 115.3,186.1 115.6,195.1 115.1,211.1 113.4,229.8 101.8,229.8 85.2,229.8 83.6,212.1 83.0,195.1 83.3,187.1 83.5,184.1 84.7,178.1 86.3,172.1 87.9,167.1 90.4,161.1 91.8,158.5 93.4,156.1 94.8,154.6Z" fill="#00EAFF"/>
<path d="M140.5,149.1 140.8,148.7 141.8,148.2 142.8,148.3 143.8,148.9 144.8,150.2 146.1,153.1 147.6,159.1 148.4,172.1 148.1,183.1 147.3,189.1 146.3,194.1 144.8,198.8 143.8,200.5 142.8,201.4 141.8,201.5 140.8,200.9 139.6,199.1 138.8,197.1 137.8,193.5 136.8,188.1 136.2,183.1 136.0,172.1 136.8,159.1 137.8,154.7 138.6,152.1 139.8,149.9ZM51.3,152.1 51.8,151.7 52.8,151.5 53.8,151.8 54.8,152.9 55.8,154.7 57.3,159.1 57.8,166.0 58.2,172.1 57.7,183.1 56.8,187.7 55.8,191.1 54.8,193.3 54.2,194.1 53.8,194.6 52.8,195.1 51.8,194.7 50.8,193.6 49.8,191.5 48.8,188.2 47.7,182.1 47.2,172.1 48.1,159.1 48.8,156.7 49.8,154.3 50.8,152.6ZM96.4,154.1 97.8,153.4 98.8,153.2 100.8,153.4 101.8,153.9 103.5,155.1 104.8,156.4 106.8,159.4 110.0,166.1 111.9,172.1 113.5,178.1 114.7,184.1 114.9,186.1 115.2,195.1 114.7,211.1 113.0,229.8 102.8,229.8 85.6,229.8 84.2,215.1 83.9,211.1 83.4,195.1 83.7,186.1 83.9,184.1 85.1,178.1 86.2,174.1 88.8,165.7 90.8,161.3 92.8,157.7 94.8,155.3Z" fill="#00F8FF"/>
<path d="M141.3,149.1 141.8,148.8 142.8,148.9 143.8,149.6 144.8,150.9 145.4,152.1 146.4,155.1 147.4,159.1 148.2,172.1 147.8,183.1 146.8,190.1 145.8,194.5 144.8,197.4 143.8,199.2 142.9,200.1 141.8,200.3 140.8,199.6 139.8,198.2 138.8,195.7 137.3,189.1 136.4,182.1 136.2,172.1 137.0,159.1 137.8,155.6 138.8,152.5 139.8,150.6 140.8,149.4ZM51.2,153.1 51.8,152.6 52.8,152.3 53.8,152.7 54.8,153.8 55.5,155.1 56.7,158.1 57.0,159.1 57.9,172.1 57.4,182.1 57.0,185.1 55.8,189.4 54.8,191.8 53.8,193.1 52.8,193.6 51.8,193.2 50.8,192.0 49.8,189.8 49.0,187.1 48.0,182.1 47.5,172.1 48.4,159.1 49.8,155.2 50.8,153.5ZM98.0,154.1 99.8,153.9 100.8,154.1 102.8,155.2 104.8,157.2 107.2,161.1 109.6,166.1 111.5,172.1 113.1,178.1 114.3,184.1 114.6,186.1 114.8,195.1 114.3,211.1 112.6,229.8 100.8,229.8 86.0,229.8 84.3,211.1 83.8,195.1 84.0,186.1 84.3,184.1 85.5,178.1 87.1,172.1 88.8,166.8 91.4,161.1 93.1,158.1 94.8,156.1 96.8,154.6Z" fill="#07FFF8"/>
<path d="M140.8,150.1 141.8,149.5 142.8,149.6 143.8,150.2 144.4,151.1 145.8,153.9 147.2,159.1 148.0,172.1 147.6,183.1 146.8,188.4 145.8,193.0 144.8,196.1 143.8,198.0 142.8,198.9 141.8,199.1 140.8,198.4 139.8,196.8 138.8,194.2 137.8,190.2 136.6,182.1 136.4,172.1 137.2,159.1 138.8,153.4 139.8,151.3ZM51.1,154.1 51.8,153.5 52.8,153.2 53.8,153.6 54.8,154.7 56.3,158.1 56.7,159.1 57.6,172.1 57.1,182.1 56.8,184.1 55.8,187.8 54.8,190.2 53.8,191.6 52.8,192.1 51.8,191.8 50.8,190.5 49.8,188.2 48.9,185.1 48.4,182.1 47.8,173.1 48.7,159.1 49.8,156.2ZM97.2,155.1 98.8,154.6 99.8,154.6 101.8,155.3 104.0,157.1 105.5,159.1 106.8,161.2 109.1,166.1 111.1,172.1 112.7,178.1 114.0,184.1 114.2,186.1 114.4,195.1 113.9,211.1 112.2,229.8 101.8,229.8 86.4,229.8 84.7,212.1 84.2,195.1 84.4,187.1 84.6,184.1 85.9,178.1 88.8,168.1 89.5,166.1 90.8,163.1 92.4,160.1 93.8,158.0 95.8,155.9Z" fill="#15FFEA"/>
<path d="M140.5,151.1 140.8,150.7 141.8,150.1 142.8,150.2 143.8,150.9 144.8,152.3 145.5,154.1 147.0,159.1 147.7,172.1 147.3,183.1 146.7,187.1 145.8,191.5 144.8,194.7 143.8,196.7 143.4,197.1 142.8,197.7 141.8,197.8 140.8,197.1 139.8,195.5 138.8,192.7 137.9,189.1 136.9,182.1 136.6,172.1 137.4,159.1 138.8,154.2 139.8,152.0ZM52.7,154.1 53.8,154.5 54.8,155.7 55.8,157.7 56.3,159.1 57.3,172.1 56.6,183.1 55.4,187.1 54.8,188.7 53.8,190.1 52.8,190.7 51.8,190.3 50.8,189.0 49.8,186.6 48.7,182.1 48.1,172.1 49.1,159.1 49.8,157.2 50.8,155.4 51.8,154.4ZM96.7,156.1 97.8,155.6 98.8,155.3 100.8,155.6 101.8,156.0 103.8,157.6 106.2,161.1 108.7,166.1 110.7,172.1 112.4,178.1 113.6,184.1 113.8,186.1 114.1,195.1 113.6,211.1 111.7,229.8 102.8,229.8 86.9,229.8 85.1,212.1 84.5,195.1 84.7,187.1 85.0,184.1 86.2,178.1 88.5,170.1 89.9,166.1 90.8,164.1 92.4,161.1 93.8,158.9 95.3,157.1Z" fill="#23FFDC"/>
<path d="M141.3,151.1 141.8,150.8 142.8,150.8 143.8,151.6 144.8,153.1 145.9,156.1 146.7,159.1 147.5,172.1 147.2,182.1 146.6,186.1 145.8,190.0 144.8,193.3 143.8,195.4 143.1,196.1 142.8,196.5 141.8,196.6 140.8,195.8 139.8,194.1 138.8,191.3 138.3,189.1 137.1,182.1 136.8,172.1 137.7,159.1 138.8,155.1 139.6,153.1 140.8,151.4ZM52.4,155.1 52.8,155.0 53.8,155.4 54.8,156.6 55.9,159.1 57.0,172.1 56.1,183.1 54.8,187.1 53.8,188.7 53.0,189.1 52.8,189.2 51.8,188.8 50.8,187.4 49.6,184.1 49.1,182.1 48.4,172.1 49.5,159.1 50.8,156.3 51.8,155.3ZM98.6,156.1 99.8,156.0 100.8,156.3 102.4,157.1 103.5,158.1 105.8,161.2 108.3,166.1 110.4,172.1 112.0,178.1 113.2,184.1 113.6,189.1 113.7,195.1 113.2,211.1 111.3,229.8 100.8,229.8 87.3,229.8 85.5,212.1 84.9,196.1 85.1,186.1 85.4,184.1 86.6,178.1 88.2,172.1 89.6,168.1 91.2,164.1 93.8,159.7 94.8,158.5 96.2,157.1 97.8,156.3Z" fill="#32FFCD"/>
<path d="M140.7,152.1 141.8,151.4 142.8,151.5 143.8,152.3 144.8,153.9 145.3,155.1 146.5,159.1 147.3,172.1 146.9,182.1 145.8,188.5 144.8,192.0 143.8,194.1 142.8,195.2 141.8,195.4 140.8,194.6 139.8,192.8 138.4,188.1 137.4,182.1 137.1,172.1 137.9,159.1 139.1,155.1 139.8,153.5ZM52.0,156.1 52.8,155.9 53.8,156.3 54.8,157.6 55.5,159.1 56.7,172.1 55.7,183.1 54.5,186.1 53.8,187.2 52.8,187.8 51.8,187.3 50.8,185.9 49.8,183.1 48.7,172.1 49.9,159.1 50.8,157.2ZM97.5,157.1 98.8,156.8 99.8,156.8 100.8,157.0 101.8,157.5 102.8,158.2 104.4,160.1 106.8,163.9 108.3,167.1 110.3,173.1 111.6,178.1 112.9,184.1 113.1,186.1 113.4,195.1 112.8,211.1 110.9,229.8 101.8,229.8 87.7,229.8 85.8,211.1 85.2,195.1 85.5,187.1 85.7,184.1 87.0,178.1 89.3,170.1 90.7,166.1 91.7,164.1 93.4,161.1 94.8,159.3 95.8,158.2Z" fill="#40FFBF"/>
<path d="M141.8,152.1 142.8,152.1 143.8,153.0 144.8,154.8 146.0,158.1 146.2,159.1 147.1,172.1 146.6,182.1 146.0,186.1 144.8,190.6 143.8,192.9 142.8,194.0 141.8,194.1 140.8,193.3 139.8,191.5 138.8,188.3 137.7,182.1 137.3,172.1 138.2,159.1 138.8,156.8 139.8,154.3 140.8,152.8ZM51.8,157.1 52.8,156.8 53.8,157.2 55.1,159.1 56.3,172.1 55.4,182.1 54.8,184.0 53.8,185.7 52.8,186.3 51.8,185.9 50.8,184.4 50.3,183.1 49.8,180.1 49.2,173.1 49.1,172.1 50.4,159.1 50.8,158.2ZM97.1,158.1 98.8,157.5 99.8,157.5 100.8,157.8 101.8,158.3 103.8,160.1 106.4,164.1 107.8,166.9 109.9,173.1 111.3,178.1 112.5,184.1 112.7,186.1 113.0,195.1 112.5,211.1 110.4,229.8 101.8,229.8 88.2,229.8 86.2,212.1 85.6,195.1 85.9,186.1 86.1,184.1 87.3,178.1 88.1,175.1 89.0,172.1 91.1,166.1 93.8,161.4 95.8,159.1Z" fill="#4EFFB1"/>
<path d="M141.4,153.1 141.8,152.8 142.8,152.9 143.8,153.8 144.8,155.6 145.8,158.4 146.0,159.1 146.9,172.1 146.2,183.1 144.8,189.3 143.8,191.6 143.4,192.1 142.8,192.7 141.8,192.9 140.8,192.1 139.8,190.1 138.4,185.1 138.1,183.1 137.8,180.1 137.5,172.1 138.4,159.1 139.8,155.1 140.8,153.5ZM51.7,158.1 52.8,157.7 53.8,158.1 54.5,159.1 55.9,172.1 54.8,182.1 53.9,184.1 52.8,184.8 51.8,184.4 50.8,182.7 49.6,173.1 49.5,172.1 49.8,168.4 50.8,159.5 50.9,159.1ZM96.8,159.1 97.8,158.5 98.8,158.3 99.8,158.3 100.8,158.5 101.8,159.1 103.0,160.1 104.7,162.1 105.8,163.8 107.4,167.1 109.5,173.1 110.9,178.1 112.1,184.1 112.4,186.1 112.7,195.1 112.1,211.1 110.0,229.8 102.8,229.8 88.6,229.8 86.6,212.1 85.9,195.1 86.2,186.1 86.5,184.1 87.7,178.1 88.5,175.1 89.8,170.9 91.6,166.1 93.8,162.3 95.6,160.1Z" fill="#5CFFA3"/>
<path d="M141.1,154.1 141.8,153.5 142.8,153.6 143.8,154.6 144.8,156.4 145.7,159.1 146.6,172.1 146.1,182.1 145.8,184.0 144.7,188.1 143.8,190.3 142.8,191.5 141.8,191.7 140.8,190.8 139.8,188.8 139.3,187.1 138.2,182.1 137.8,174.1 137.7,172.1 138.7,159.1 139.8,155.9ZM51.7,159.1 52.8,158.6 53.8,159.2 54.8,165.4 55.5,172.1 54.8,178.3 53.8,182.6 52.8,183.4 51.8,182.9 51.5,182.1 50.8,179.4 49.9,172.1 50.8,163.9ZM98.7,159.1 99.8,159.1 100.8,159.3 102.1,160.1 103.8,161.8 104.8,163.1 106.6,166.1 107.8,169.1 108.8,172.1 110.6,178.1 111.8,184.1 112.0,186.1 112.3,195.1 111.7,212.1 109.6,229.8 100.8,229.8 89.0,229.8 86.9,212.1 86.3,196.1 86.6,186.1 86.8,184.1 88.0,178.1 89.8,172.1 92.0,166.1 93.8,163.1 95.8,160.7 96.8,159.9Z" fill="#6AFF95"/>
<path d="M140.8,155.1 141.8,154.3 142.8,154.4 143.8,155.3 144.8,157.2 145.4,159.1 146.4,172.1 146.2,176.1 145.7,183.1 144.8,186.6 143.8,189.1 142.8,190.3 141.8,190.5 140.8,189.6 139.7,187.1 138.8,183.9 138.5,182.1 138.0,172.1 138.8,160.7 138.9,159.1 139.3,158.1 139.8,156.7ZM97.9,160.1 98.8,159.8 99.8,159.8 100.8,160.1 101.8,160.7 103.8,162.6 106.1,166.1 108.4,172.1 110.2,178.1 111.4,184.1 111.7,187.1 112.0,195.1 111.4,211.1 110.4,220.1 109.1,229.8 100.8,229.8 89.5,229.8 88.2,220.1 87.2,211.1 86.6,195.1 86.9,187.1 87.2,184.1 88.4,178.1 90.2,172.1 92.5,166.1 94.8,162.6 96.8,160.7ZM52.2,162.1 52.8,161.2 53.8,163.6 55.1,172.1 54.8,174.4 53.8,179.1 53.3,180.1 52.8,181.0 51.8,179.8 50.8,175.6 50.4,172.1 50.8,168.2 51.8,162.8Z" fill="#78FF87"/>
<path d="M141.7,155.1 142.8,155.1 143.8,156.1 144.8,158.0 145.2,159.1 146.1,172.1 145.3,183.1 144.8,185.2 143.8,187.8 142.8,189.1 141.8,189.2 140.8,188.3 139.8,186.1 139.2,184.1 138.8,181.8 138.2,172.1 139.2,159.1 139.8,157.5 140.8,155.8ZM97.5,161.1 98.8,160.6 99.8,160.6 100.8,160.9 101.8,161.5 103.8,163.4 105.6,166.1 108.0,172.1 109.8,178.0 111.3,186.1 111.6,195.1 111.0,211.1 109.9,221.1 108.7,229.8 101.8,229.8 89.9,229.8 88.7,221.1 87.6,211.1 87.0,195.1 87.3,186.1 87.5,184.1 88.8,178.1 89.3,176.1 90.6,172.1 92.5,167.1 93.6,165.1 94.8,163.4 95.8,162.3ZM52.5,166.1 52.8,165.6 53.8,168.0 54.5,172.1 53.8,175.7 53.0,177.1 52.8,177.4 51.8,176.2 50.9,172.1 51.8,167.2Z" fill="#87FF78"/>
<path d="M141.4,156.1 141.8,155.8 142.8,155.9 143.8,156.9 144.9,159.1 145.9,172.1 145.0,183.1 143.8,186.5 143.4,187.1 142.8,187.9 141.8,188.0 140.8,187.0 139.8,184.8 139.4,183.1 138.8,177.5 138.5,172.1 139.5,159.1 140.8,156.6ZM97.1,162.1 98.8,161.4 99.8,161.4 100.8,161.7 102.8,163.1 105.1,166.1 107.6,172.1 109.2,177.1 110.7,184.1 111.0,186.1 111.3,195.1 110.6,211.1 109.6,220.1 108.2,229.8 101.8,229.8 90.4,229.8 89.0,220.1 88.0,211.1 87.3,195.1 87.6,186.1 87.9,184.1 89.1,178.1 91.0,172.1 92.1,169.1 93.8,165.6 95.8,163.1ZM52.7,170.1 52.8,170.0 53.7,172.1 52.8,173.9 51.8,172.6 51.7,172.1 51.8,171.5Z" fill="#95FF6A"/>
<path d="M141.1,157.1 141.8,156.5 142.8,156.6 143.8,157.6 144.5,159.1 145.6,172.1 144.8,182.2 143.8,185.3 142.8,186.7 141.8,186.8 140.8,185.8 139.8,183.4 139.5,182.1 138.8,173.1 138.8,171.3 139.9,159.1 140.8,157.4ZM96.8,163.1 97.8,162.5 98.8,162.2 99.8,162.2 100.8,162.5 102.8,163.9 104.6,166.1 106.8,171.0 108.8,177.1 110.3,184.1 110.6,186.1 111.0,195.1 110.3,211.1 109.1,221.1 107.8,229.8 102.8,229.8 90.8,229.8 89.7,222.1 88.4,212.1 87.6,195.1 88.0,186.1 88.3,184.1 89.5,178.1 91.8,171.0 94.0,166.1 95.8,163.9Z" fill="#A3FF5C"/>
<path d="M140.8,158.1 141.8,157.3 142.8,157.4 143.8,158.4 144.1,159.1 144.8,165.4 145.3,172.1 144.8,178.8 144.1,183.1 143.8,184.0 143.0,185.1 142.8,185.4 141.8,185.6 140.8,184.5 140.2,183.1 139.8,181.1 139.3,175.1 139.0,172.1 139.8,163.2 140.3,159.1ZM98.4,163.1 99.8,163.0 100.8,163.3 102.8,164.7 104.0,166.1 104.8,167.5 106.8,172.1 108.7,178.1 110.0,184.1 110.2,186.1 110.6,195.1 109.8,212.1 108.7,221.1 107.3,229.8 100.8,229.8 91.3,229.8 89.9,221.1 88.8,212.1 88.0,196.1 88.5,185.1 89.9,178.1 90.8,175.1 92.8,169.7 94.6,166.1 95.8,164.7 96.8,163.9Z" fill="#B1FF4E"/>
<path d="M141.7,158.1 142.8,158.1 143.7,159.1 145.0,172.1 143.9,182.1 143.6,183.1 142.9,184.1 141.8,184.4 140.7,183.1 139.8,177.5 139.3,172.1 140.7,159.1ZM97.7,164.1 98.8,163.8 99.8,163.8 100.8,164.1 102.8,165.5 104.0,167.1 106.4,172.1 107.8,176.4 108.8,180.3 109.9,186.1 110.3,195.1 109.5,211.1 108.4,220.1 106.8,229.7 106.8,229.8 101.8,229.8 91.8,229.8 90.2,220.1 89.1,211.1 88.3,195.1 88.7,186.1 89.0,184.1 90.3,178.1 92.8,170.7 93.8,168.6 95.3,166.1 96.8,164.7Z" fill="#BFFF40"/>
<path d="M141.5,159.1 141.8,158.8 142.8,158.9 142.9,159.1 143.8,163.5 144.7,172.1 143.8,179.7 143.2,182.1 142.8,182.9 142.1,183.1 141.8,183.1 141.2,182.1 140.8,181.0 139.6,172.1 140.8,162.1ZM97.4,165.1 98.8,164.6 99.8,164.6 100.8,164.9 102.6,166.1 103.8,167.8 105.9,172.1 107.8,177.6 109.5,186.1 109.9,195.1 109.2,211.1 108.3,218.1 107.0,226.1 106.2,229.8 101.8,229.8 92.4,229.8 90.8,221.2 89.4,211.1 88.7,195.1 89.1,186.1 89.4,184.1 90.7,178.1 92.8,171.8 95.3,167.1 96.0,166.1Z" fill="#CDFF32"/>
<path d="M141.7,162.1 141.8,161.5 142.8,162.0 143.8,167.1 144.3,172.1 143.8,176.6 142.9,180.1 142.8,180.5 141.8,180.9 140.8,177.9 140.0,172.1 140.8,165.7ZM97.0,166.1 98.8,165.4 99.8,165.4 100.8,165.6 101.8,166.3 102.8,167.4 103.8,168.9 105.4,172.1 107.6,178.1 109.2,186.1 109.6,195.1 108.8,210.1 108.7,212.1 107.4,221.1 105.7,229.8 101.8,229.8 92.9,229.8 91.2,221.1 89.8,211.1 89.0,195.1 89.4,186.1 89.7,184.1 91.0,178.1 93.2,172.1 94.8,168.9 95.8,167.4Z" fill="#DCFF23"/>
<path d="M141.6,166.1 141.8,165.2 142.8,165.7 143.8,170.7 144.0,172.1 143.8,173.4 142.9,177.1 142.8,177.5 141.8,177.9 140.8,174.7 140.6,173.1 140.5,172.1 140.8,169.3ZM97.0,167.1 97.8,166.5 98.8,166.2 99.8,166.2 100.8,166.5 101.8,167.3 103.8,169.9 104.9,172.1 107.1,178.1 108.8,186.1 109.2,196.1 108.4,211.1 107.6,217.1 106.3,224.1 105.1,229.8 101.8,229.8 93.5,229.8 91.8,221.7 90.2,211.1 89.4,195.1 90.0,185.1 91.5,178.1 92.8,174.2 93.7,172.1 94.8,169.9 95.8,168.4Z" fill="#EAFF15"/>
<path d="M97.1,168.1 97.8,167.5 98.8,167.1 99.8,167.1 100.8,167.5 101.8,168.3 103.8,171.0 104.8,173.0 106.7,178.1 108.4,186.1 108.8,195.1 107.8,212.9 106.0,223.1 104.4,229.8 101.8,229.8 94.2,229.8 92.2,221.1 90.6,211.1 89.8,195.1 90.3,185.1 91.9,178.1 92.8,175.5 94.8,171.0 95.8,169.5ZM141.7,169.1 141.8,168.8 142.8,169.3 143.4,172.1 142.9,174.1 142.8,174.5 141.8,174.9 141.0,172.1Z" fill="#F8FF07"/>
<path d="M97.1,169.1 97.8,168.6 98.8,168.2 99.8,168.2 100.8,168.6 101.8,169.4 103.8,172.0 106.3,178.1 108.0,186.1 108.5,195.1 107.5,212.1 105.8,221.8 103.8,229.7 103.7,229.8 101.8,229.8 94.9,229.8 92.8,221.8 91.0,211.1 90.1,195.1 90.6,186.1 91.8,180.2 92.8,176.7 94.8,172.0 95.8,170.5Z" fill="#FFF800"/>
<path d="M97.2,170.1 97.8,169.6 98.8,169.2 99.8,169.2 100.8,169.6 101.8,170.4 103.2,172.1 104.8,175.4 105.9,178.1 107.6,186.1 108.1,195.1 107.1,212.1 105.8,219.2 103.8,227.3 102.9,229.8 101.8,229.8 95.7,229.8 94.8,227.3 93.7,223.1 92.4,217.1 91.4,211.1 90.5,195.1 91.0,186.1 92.8,177.9 94.9,173.1 95.8,171.6Z" fill="#FFEA00"/>
<path d="M97.2,171.1 97.8,170.6 98.8,170.2 99.8,170.2 100.8,170.6 101.8,171.4 102.8,172.7 103.8,174.5 105.4,178.1 107.2,186.1 107.7,195.1 106.6,212.1 105.8,216.7 104.3,223.1 102.8,227.8 101.8,229.8 96.8,229.8 95.2,226.1 93.8,221.3 92.8,216.7 91.8,211.1 90.9,195.1 91.4,186.1 93.2,178.1 94.8,174.5 95.8,172.7Z" fill="#FFDC00"/>
<path d="M97.3,172.1 98.8,171.3 99.8,171.3 101.3,172.1 102.8,173.9 104.9,178.1 106.4,184.1 106.9,187.1 107.3,195.1 106.2,212.1 104.8,218.9 103.8,222.6 102.5,226.1 101.8,227.6 100.8,229.0 99.8,229.7 98.8,229.7 97.8,229.0 96.8,227.6 95.8,225.5 95.0,223.1 93.8,218.9 92.4,212.1 91.7,202.1 91.3,195.1 92.0,185.1 93.8,177.9 95.8,173.9Z" fill="#FFCD00"/>
<path d="M97.5,173.1 98.8,172.4 99.8,172.4 101.1,173.1 102.8,175.1 104.3,178.1 104.8,179.7 106.4,186.1 106.6,189.1 106.9,196.1 105.7,212.1 104.8,216.4 103.5,221.1 101.8,225.4 100.8,226.8 99.8,227.5 98.8,227.5 97.8,226.8 96.8,225.4 96.2,224.1 94.8,220.2 93.8,216.4 92.8,211.4 91.8,197.3 91.7,195.1 92.2,187.1 92.6,184.1 94.3,178.1 95.8,175.1Z" fill="#FFBF00"/>
<path d="M97.7,174.1 98.8,173.6 99.8,173.6 100.8,174.1 101.8,175.0 103.8,178.1 105.9,186.1 106.5,195.1 105.2,212.1 103.8,217.9 102.8,220.9 101.8,223.1 100.8,224.6 99.8,225.3 98.8,225.3 97.8,224.6 96.8,223.1 96.3,222.1 94.8,217.9 93.3,211.1 92.2,196.1 92.7,186.1 93.1,184.1 94.8,178.1 96.8,175.0Z" fill="#FFB100"/>
<path d="M98.2,175.1 98.8,174.8 99.8,174.8 100.8,175.3 101.8,176.2 103.1,178.1 104.8,183.5 105.4,186.1 106.1,195.1 104.7,212.1 103.8,215.5 102.6,219.1 101.8,220.9 100.8,222.4 99.8,223.1 98.8,223.1 97.8,222.4 96.9,221.1 95.8,218.6 94.8,215.5 93.8,211.1 92.5,195.1 93.2,186.1 93.8,183.5 95.5,178.1 96.8,176.2Z" fill="#FFA300"/>
<path d="M98.7,176.1 99.8,176.0 100.8,176.5 101.8,177.5 102.8,179.3 103.8,182.1 104.9,186.1 105.6,195.1 104.8,205.4 104.1,212.1 102.8,216.3 101.8,218.7 100.8,220.2 99.8,220.9 98.8,220.9 97.8,220.2 96.8,218.7 95.7,216.1 94.8,213.2 94.4,211.1 93.0,196.1 93.7,186.1 94.2,184.1 96.3,178.1 97.8,176.5Z" fill="#FF9500"/>
<path d="M97.4,178.1 98.8,177.3 99.8,177.3 100.8,177.7 101.8,179.1 102.8,181.2 104.4,186.1 104.8,190.8 105.1,196.1 103.6,211.1 102.8,214.1 101.8,216.4 100.8,218.0 99.8,218.7 98.8,218.7 97.8,218.0 96.8,216.4 95.8,214.1 95.0,211.1 93.8,199.4 93.5,195.1 94.2,186.1 95.8,181.2Z" fill="#FF8700"/>
<path d="M98.4,179.1 98.8,178.8 99.8,178.8 100.8,179.5 101.8,181.0 102.8,183.2 103.8,186.1 104.6,195.1 103.8,203.8 102.9,211.1 101.8,214.2 100.8,215.7 100.3,216.1 99.8,216.5 98.8,216.5 97.8,215.7 96.8,214.2 95.9,212.1 94.8,203.8 94.0,195.1 94.8,186.1 95.8,183.2 96.8,181.0 97.8,179.5Z" fill="#FF7800"/>
<path d="M98.4,181.1 98.8,180.8 99.8,180.8 100.8,181.5 101.8,183.0 102.8,185.2 103.2,187.1 104.0,195.1 102.8,206.2 102.0,211.1 101.7,212.1 100.8,213.5 100.1,214.1 99.8,214.3 98.8,214.3 97.8,213.5 96.8,211.8 95.8,206.2 94.6,195.1 95.5,186.1 96.8,183.0 97.8,181.5Z" fill="#FF6A00"/>
<path d="M98.4,183.1 98.8,182.8 99.8,182.8 100.8,183.5 101.8,185.0 102.3,186.1 103.4,195.1 102.8,200.6 101.8,206.7 100.8,210.8 99.8,212.1 98.8,212.1 97.8,210.8 96.8,206.7 95.8,200.6 95.2,195.1 96.3,186.1 96.8,185.0 97.8,183.5Z" fill="#FF5C00"/>
<path d="M98.4,185.1 98.8,184.8 99.8,184.8 100.8,185.6 101.2,186.1 101.8,188.8 102.7,195.1 101.8,201.2 100.8,205.3 99.9,207.1 99.8,207.3 98.8,207.3 97.8,205.3 96.8,201.2 95.9,195.1 97.2,187.1 97.4,186.1Z" fill="#FF4E00"/>
<path d="M98.8,188.1 99.8,188.0 100.3,189.1 100.8,190.3 101.8,195.1 100.8,199.8 100.2,201.1 99.8,201.9 98.8,201.9 97.8,199.8 96.8,195.3 97.8,190.3Z" fill="#FF4000"/>
<path d="M98.8,194.1 99.8,194.1 100.2,195.1 100.0,196.1 99.8,196.4 98.8,196.4 98.4,195.1Z" fill="#FF3200"/>
<text x="26.3" y="151.5" text-anchor="end" font-size="10">0</text>
<text x="26.3" y="169.7" text-anchor="end" font-size="10">2</text>
<text x="26.3" y="187.8" text-anchor="end" font-size="10">4</text>
<text x="26.3" y="206.0" text-anchor="end" font-size="10">6</text>
<text x="26.3" y="224.1" text-anchor="end" font-size="10">8</text>
<text x="59.1" y="241.2" text-anchor="middle" font-size="10">10</text>
<text x="94.4" y="241.2" text-anchor="middle" font-size="10">20</text>
<text x="129.7" y="241.2" text-anchor="middle" font-size="10">30</text>
<text x="165.0" y="241.2" text-anchor="middle" font-size="10">40</text>
<text x="14.4" y="188.5" text-anchor="middle" font-size="10" transform="rotate(-90 14.4 188.5)" letter-spacing="0.7"><tspan font-style="italic">z</tspan>/km</text>
<text x="99.9" y="249.8" text-anchor="middle" font-size="10" letter-spacing="0.25"><tspan font-style="italic">x</tspan>/km</text>
<text x="103.1" y="274.4" text-anchor="middle" font-size="7">(<tspan font-weight="bold">c</tspan>)</text>
<path d="M48.9,168.3V166.1H56.6V168.3M48.9,172.2V179.8M56.6,172.2V179.8M48.9,185.6H56.6M138.3,168.3V166.1H145.9V168.3M138.3,172.2V179.8M145.9,172.2V179.8M138.3,185.6H145.9" fill="none" stroke="#2e2c1a" stroke-width=".8"/>
<rect x="90.1" y="184.9" width="17.3" height="27.9" fill="none" stroke="#2e2c1a" stroke-width=".8" stroke-dasharray="8.2 4.1"/>
<rect x="176.8" y="148.1" width="10.2" height="82.1" fill="url(#jet)"/>
<text x="185" y="142.8" text-anchor="middle" font-size="10">kg/m<tspan font-size="6" dy="-3.5">3</tspan></text>
<text x="188.3" y="151.4" text-anchor="start" font-size="10">480</text>
<text x="188.3" y="165.0" text-anchor="start" font-size="10">400</text>
<text x="188.3" y="182.1" text-anchor="start" font-size="10">300</text>
<text x="188.3" y="199.1" text-anchor="start" font-size="10">200</text>
<text x="188.3" y="216.2" text-anchor="start" font-size="10">100</text>
<text x="188.3" y="233.2" text-anchor="start" font-size="10">0</text>
<rect x="30.8" y="415.6" width="133.5" height="81.7" fill="#00008F"/>
<path d="M38.6,416.6 38.8,415.6 66.6,415.6 68.8,425.5 69.8,428.4 70.8,429.2 71.8,428.7 72.8,427.2 78.4,415.6 120.2,415.6 123.8,422.5 124.8,423.8 125.8,424.3 126.8,423.4 127.8,420.7 129.0,415.6 155.3,415.6 156.9,426.6 157.7,438.6 158.1,446.6 158.2,461.6 157.7,475.6 157.4,480.6 156.3,490.6 155.1,497.3 39.2,497.3 38.0,491.6 36.4,478.6 35.9,469.6 35.6,457.6 35.7,449.6 36.2,437.6 37.0,426.6Z" fill="#000095"/>
<path d="M40.7,415.6 64.7,415.6 66.5,424.6 67.8,434.0 68.8,437.6 69.8,438.9 70.8,438.7 71.8,437.3 72.8,435.3 78.4,421.6 81.2,415.6 117.4,415.6 119.3,419.6 123.8,429.8 124.8,431.6 125.8,432.6 126.8,432.6 127.8,430.6 130.8,415.6 153.6,415.6 155.3,426.6 156.1,439.6 156.5,450.6 156.4,458.6 156.0,468.6 155.3,478.6 153.4,491.6 152.0,497.3 42.8,497.3 41.1,491.6 39.1,479.6 38.1,469.6 37.7,457.6 37.6,449.6 37.9,439.6 38.3,433.6 38.9,425.6Z" fill="#0000A3"/>
<path d="M41.7,416.6 41.9,415.6 63.5,415.6 65.4,425.6 66.8,438.3 67.8,444.1 68.8,446.5 69.8,446.8 70.8,445.7 71.8,443.9 79.0,424.6 81.1,419.6 83.1,415.6 115.5,415.6 119.2,423.6 124.8,437.3 125.8,438.8 126.8,439.2 127.8,438.1 128.8,434.7 130.2,424.6 131.9,415.6 152.5,415.6 153.3,419.6 154.3,426.6 155.1,439.6 155.3,450.6 155.1,459.6 154.4,472.6 153.5,480.6 151.4,491.6 150.6,494.6 149.6,497.3 70.5,497.3 69.1,485.6 68.8,484.4 67.8,482.5 66.8,482.9 65.8,484.5 62.9,492.6 62.1,494.6 60.6,497.3 45.7,497.3 44.4,494.6 43.4,491.6 41.2,481.6 40.0,473.6 39.2,462.6 38.8,450.6 39.1,439.6 40.0,426.6Z" fill="#0000B1"/>
<path d="M42.6,416.6 42.9,415.6 62.5,415.6 63.5,419.6 64.6,426.6 66.3,444.6 66.8,448.9 67.4,451.6 67.4,455.6 67.1,462.6 66.3,469.6 65.3,475.6 64.1,480.6 60.6,491.6 58.8,495.1 57.0,497.3 48.8,497.3 47.4,495.6 45.8,492.5 44.8,489.6 42.6,481.6 41.5,475.6 40.7,467.6 40.1,458.6 39.8,449.6 40.0,439.6 40.8,426.6ZM84.6,415.6 114.0,415.6 116.1,419.6 118.3,424.6 124.8,442.3 125.8,444.1 126.8,445.1 127.8,444.7 128.8,441.9 129.8,436.1 131.1,424.6 132.8,415.6 151.6,415.6 152.4,419.6 153.5,426.6 154.3,439.6 154.4,451.6 154.0,463.6 153.1,474.6 152.1,481.6 150.0,490.6 148.8,494.2 147.2,497.3 136.0,497.3 134.3,494.6 132.5,490.6 130.8,486.4 129.8,485.1 128.8,485.3 127.8,488.6 126.6,497.3 72.5,497.3 71.2,479.6 70.4,463.6 70.8,452.6 70.9,451.6 72.8,446.7 77.0,433.6 79.2,427.6 82.1,420.6Z" fill="#0000BF"/>
<path d="M43.7,415.6 61.7,415.6 62.7,419.6 63.9,426.6 65.6,449.6 65.7,452.6 65.4,460.6 64.5,469.6 63.1,477.6 61.4,483.6 59.6,488.6 58.2,491.6 56.8,493.6 55.9,494.6 54.8,495.3 53.8,495.7 52.8,495.8 51.8,495.7 50.8,495.3 49.8,494.6 48.8,493.5 47.8,492.0 46.6,489.6 44.2,482.6 43.0,477.6 42.2,472.6 41.4,465.6 40.6,449.6 40.7,439.6 41.6,426.6 42.5,420.6ZM85.3,416.6 85.9,415.6 112.7,415.6 115.3,420.6 117.5,425.6 120.4,433.6 124.8,446.8 125.8,449.1 126.8,450.5 127.8,450.7 128.8,448.8 129.8,443.6 130.8,434.8 131.5,426.6 132.4,420.6 133.5,415.6 150.9,415.6 151.9,420.6 152.8,426.6 153.6,439.6 153.7,450.6 153.4,460.6 152.5,471.6 151.4,479.6 148.8,489.6 147.8,492.3 146.6,494.6 144.9,496.6 143.9,497.3 139.8,497.3 138.8,496.6 137.8,495.6 135.8,492.6 134.5,489.6 131.1,479.6 128.8,470.4 127.8,469.9 126.8,476.5 125.8,485.9 124.9,497.3 73.9,497.3 72.8,479.6 72.7,473.6 72.4,462.6 72.7,452.6 74.5,445.6 78.2,433.6 81.5,424.6 83.3,420.6Z" fill="#0000CD"/>
<path d="M44.4,415.6 61.0,415.6 62.4,421.6 63.2,426.6 64.2,439.6 64.7,451.6 64.3,459.6 63.4,468.6 62.1,476.6 60.6,481.6 57.8,488.1 56.8,489.8 55.8,491.1 54.8,491.9 53.8,492.4 52.8,492.6 51.8,492.4 50.8,491.9 49.8,491.0 48.8,489.7 47.8,487.9 45.5,482.6 44.3,478.6 43.5,474.6 42.4,466.6 41.6,456.6 41.3,449.6 41.4,440.6 42.2,426.6 43.4,419.6ZM86.4,416.6 87.0,415.6 111.6,415.6 113.3,418.6 115.2,422.6 119.4,433.6 125.0,451.6 125.3,453.6 125.5,462.6 125.1,472.6 124.8,479.6 123.6,497.3 113.8,497.3 75.1,497.3 74.0,478.6 73.7,462.6 74.1,451.6 76.2,443.6 79.2,433.6 82.5,424.6 84.3,420.6ZM134.1,415.6 150.3,415.6 151.2,419.6 152.1,425.6 153.0,439.6 153.2,449.6 152.7,459.6 152.1,467.6 151.3,474.6 150.2,480.6 147.6,488.6 146.8,490.6 145.8,492.4 144.8,493.6 143.8,494.4 142.8,494.9 141.8,495.0 140.8,494.8 139.8,494.2 138.8,493.4 137.8,492.1 136.0,488.6 133.5,481.6 132.4,477.6 131.3,471.6 130.2,462.6 129.8,451.6 130.8,442.6 132.1,426.6 133.2,419.6Z" fill="#0000DC"/>
<path d="M44.8,416.6 45.1,415.6 60.3,415.6 61.4,419.6 62.6,426.6 63.6,439.6 63.9,452.6 63.2,462.6 62.0,471.6 60.4,478.6 59.3,481.6 58.3,483.6 55.8,487.5 54.8,488.5 53.8,489.1 52.8,489.3 51.8,489.1 50.8,488.5 49.8,487.5 46.8,482.5 45.4,478.6 44.4,474.6 43.3,467.6 42.5,459.6 41.9,450.6 41.9,443.6 42.0,439.6 42.8,426.6 44.0,419.6ZM87.4,416.6 88.0,415.6 110.6,415.6 112.3,418.6 114.3,422.6 116.3,427.6 118.5,433.6 123.7,451.6 123.9,453.6 124.1,462.6 123.7,478.6 122.5,497.3 112.8,497.3 76.2,497.3 75.1,478.6 74.7,462.6 75.1,451.6 78.3,439.6 80.5,432.6 83.4,424.6 85.2,420.6ZM134.7,415.6 149.7,415.6 151.3,423.6 151.7,426.6 152.5,439.6 152.6,450.6 151.9,462.6 151.0,471.6 149.7,478.6 148.6,482.6 146.0,488.6 144.8,490.5 143.8,491.4 142.8,492.0 141.8,492.1 140.8,491.8 139.8,491.2 138.8,490.1 137.4,487.6 134.8,481.6 133.4,476.6 132.4,471.6 131.3,462.6 130.8,451.6 132.6,426.6 133.6,420.6Z" fill="#0000EA"/>
<path d="M45.7,415.6 59.7,415.6 60.8,419.6 62.0,425.6 63.0,439.6 63.3,450.6 62.9,456.6 62.0,465.6 60.6,473.6 59.2,478.6 58.4,480.6 57.3,482.6 55.8,484.5 53.8,485.8 52.8,486.0 51.8,485.8 49.8,484.5 48.3,482.6 46.8,479.6 45.5,475.6 44.3,469.6 43.3,461.6 42.6,452.6 42.5,439.6 43.3,426.6 44.6,419.6ZM88.3,416.6 89.0,415.6 109.6,415.6 112.0,419.6 114.4,424.6 117.3,432.6 119.5,439.6 122.7,451.6 122.9,453.6 123.1,462.6 122.7,478.6 121.6,497.3 111.8,497.3 77.1,497.3 76.0,478.6 75.6,462.6 76.0,451.6 78.3,442.6 81.3,432.6 84.2,424.6 86.1,420.6ZM135.2,415.6 149.2,415.6 150.1,419.6 151.2,425.6 152.0,439.6 152.1,447.6 152.0,452.6 151.3,462.6 150.4,470.6 149.1,477.6 147.8,481.9 146.8,484.0 145.8,485.6 144.6,487.6 143.8,488.5 142.8,489.0 141.8,489.2 140.8,488.9 139.4,487.6 136.9,483.6 135.6,480.6 134.2,475.6 133.1,469.6 132.1,461.6 131.6,450.6 132.1,439.6 133.1,426.6 134.3,419.6Z" fill="#0000F8"/>
<path d="M46.3,415.6 59.1,415.6 60.3,419.6 61.5,425.6 62.5,439.6 62.7,450.6 62.3,456.6 61.4,464.6 60.2,471.6 58.8,476.7 57.8,479.2 56.8,481.0 55.4,482.6 53.8,483.6 52.8,483.8 51.8,483.6 50.8,483.2 49.8,482.3 48.8,481.0 48.0,479.6 46.8,476.6 45.7,472.6 44.7,467.6 43.7,459.6 43.1,451.6 43.0,439.6 43.8,426.6 45.1,419.6ZM89.3,416.6 90.0,415.6 108.6,415.6 111.7,420.6 114.4,426.6 116.9,433.6 120.4,445.6 122.0,452.6 122.3,462.6 121.8,479.6 120.7,497.3 110.8,497.3 77.9,497.3 76.8,478.6 76.4,462.6 76.8,451.6 79.3,441.6 82.4,431.6 85.5,423.6 87.4,419.6ZM135.8,415.6 148.6,415.6 149.7,419.6 150.7,425.6 151.6,439.6 151.6,450.6 151.0,459.6 150.2,467.6 149.0,474.6 147.7,479.6 146.8,481.7 145.8,483.5 144.8,484.7 143.8,485.5 142.8,486.1 141.8,486.3 140.8,485.9 138.8,484.2 137.1,481.6 135.8,478.2 134.6,473.6 133.6,467.6 132.7,459.6 132.2,452.6 132.6,439.6 133.5,426.6 134.5,420.6Z" fill="#0007FF"/>
<path d="M46.6,416.6 46.9,415.6 58.5,415.6 59.8,419.6 61.2,426.6 62.0,439.6 62.1,449.6 61.9,453.6 61.1,461.6 60.0,468.6 58.5,474.6 56.8,478.5 55.8,480.0 54.8,481.0 53.8,481.6 52.8,481.8 51.8,481.6 50.8,481.0 49.8,480.1 48.3,477.6 47.1,474.6 46.0,470.6 45.2,466.6 44.3,459.6 43.5,450.6 43.4,439.6 44.2,426.6 45.4,420.6ZM90.2,416.6 90.9,415.6 107.7,415.6 110.4,419.6 113.3,425.6 116.3,433.6 119.7,445.6 121.2,452.6 121.5,462.6 121.1,479.6 119.9,497.3 109.8,497.3 78.7,497.3 77.5,478.6 77.2,462.6 77.5,451.6 80.5,439.6 83.4,430.6 86.7,422.6 88.2,419.6ZM136.3,415.6 148.1,415.6 149.2,419.6 150.5,426.6 151.2,440.6 151.2,450.6 150.6,459.6 149.6,467.6 148.5,473.6 147.1,478.6 145.6,481.6 144.8,482.7 143.8,483.6 142.8,484.1 141.8,484.2 140.8,483.9 139.8,483.3 138.8,482.2 137.3,479.6 136.2,476.6 135.2,472.6 134.1,466.6 133.3,459.6 132.7,451.6 133.0,439.6 133.9,426.6 135.2,419.6Z" fill="#0015FF"/>
<path d="M47.5,415.6 57.9,415.6 59.3,419.6 60.7,426.6 61.6,439.6 61.6,449.6 61.3,454.6 60.4,462.6 59.3,468.6 57.8,473.7 56.8,476.1 55.9,477.6 54.8,478.8 53.8,479.5 52.8,479.7 51.8,479.5 50.8,478.9 49.8,477.8 48.5,475.6 47.1,471.6 45.9,466.6 45.1,461.6 44.0,450.6 43.9,439.6 44.7,426.6 46.1,419.6ZM91.0,416.6 91.9,415.6 106.8,415.7 108.8,418.3 110.7,421.6 112.2,424.6 114.2,429.6 115.6,433.6 117.4,439.6 120.4,451.6 120.8,462.6 120.4,478.6 119.2,497.3 108.8,497.3 79.4,497.3 78.2,478.6 77.9,462.6 78.2,451.6 81.2,439.6 84.1,430.6 86.0,425.6 87.4,422.6 89.0,419.6ZM136.7,415.6 147.7,415.6 149.0,420.6 150.1,426.6 150.8,439.6 150.8,449.6 150.4,456.6 149.5,464.6 148.5,470.6 147.3,475.6 145.8,479.2 144.8,480.8 143.8,481.8 142.8,482.3 141.8,482.4 140.8,482.1 139.8,481.3 138.8,480.1 137.5,477.6 136.5,474.6 135.3,469.6 134.4,464.6 133.2,451.6 133.4,439.6 134.3,426.6 135.6,419.6Z" fill="#0023FF"/>
<path d="M47.7,416.6 48.1,415.6 57.3,415.6 58.8,419.6 60.3,426.6 61.2,439.6 61.1,451.6 60.2,459.6 59.2,465.6 57.8,471.0 56.3,474.6 54.8,476.7 53.8,477.4 52.8,477.7 51.8,477.5 50.8,476.8 49.8,475.6 48.7,473.6 47.3,469.6 46.4,465.6 45.7,461.6 44.4,450.6 44.3,439.6 45.1,426.6 46.4,420.6ZM91.9,416.6 92.9,415.6 105.7,415.6 106.8,416.8 108.8,419.6 110.8,423.2 112.4,426.6 114.3,431.6 117.1,440.6 119.7,451.6 120.1,462.6 119.7,478.6 118.5,497.3 107.8,497.3 80.1,497.3 78.9,478.6 78.5,462.6 78.9,451.6 81.5,440.6 84.3,431.6 86.2,426.6 88.1,422.6 89.8,419.6ZM137.2,415.6 147.2,415.6 148.4,419.6 149.7,426.6 150.5,439.6 150.4,449.6 149.9,456.6 149.0,464.6 147.9,470.6 146.8,474.6 145.8,477.1 144.9,478.6 143.8,479.9 142.8,480.5 141.8,480.6 140.8,480.2 140.1,479.6 138.8,478.0 137.7,475.6 136.4,471.6 135.4,466.6 134.6,461.6 133.7,450.6 133.8,439.6 134.6,426.6 136.0,419.6Z" fill="#0032FF"/>
<path d="M48.8,415.6 56.6,415.6 58.3,419.6 59.9,426.6 60.7,439.6 60.7,449.6 60.4,453.6 59.3,461.6 58.0,467.6 56.8,471.1 55.8,473.2 54.8,474.6 53.8,475.3 52.8,475.6 51.8,475.4 50.8,474.7 50.0,473.6 48.8,471.3 47.8,468.5 46.8,464.5 45.9,459.6 45.2,453.6 44.8,449.6 44.7,439.6 45.5,426.6 47.1,419.6ZM92.9,416.6 94.0,415.6 104.6,415.6 105.8,416.7 107.4,418.6 109.3,421.6 110.9,424.6 114.4,433.6 117.5,444.6 119.1,451.6 119.5,462.6 119.1,478.6 117.8,497.3 106.8,497.3 80.8,497.3 79.5,478.6 79.1,462.6 79.5,451.6 80.8,445.6 82.4,439.6 84.2,433.6 85.3,430.6 87.3,425.6 88.8,422.5 90.8,419.2ZM137.7,415.6 146.7,415.6 148.0,419.6 149.4,426.6 150.1,439.6 150.0,449.6 149.7,454.6 148.8,462.4 147.8,468.2 146.7,472.6 145.8,474.9 144.9,476.6 143.8,478.0 142.8,478.6 141.8,478.7 140.8,478.4 140.0,477.6 138.8,475.9 137.8,473.6 136.6,469.6 135.6,464.6 134.9,459.6 134.1,449.6 134.2,439.6 135.0,426.6 136.4,419.6Z" fill="#0040FF"/>
<path d="M49.5,415.6 55.9,415.6 56.8,417.2 57.8,419.7 59.5,426.6 60.4,439.6 60.1,451.6 59.2,458.6 58.0,464.6 56.8,468.7 55.4,471.6 54.8,472.4 53.8,473.3 52.8,473.6 51.8,473.3 50.9,472.6 49.8,471.1 48.3,467.6 47.2,463.6 46.3,458.6 45.4,451.6 45.1,439.6 45.9,426.6 47.6,419.6 48.8,416.8ZM93.9,416.6 95.2,415.6 103.4,415.6 105.7,417.6 107.3,419.6 110.2,424.6 113.8,433.6 117.2,445.6 118.5,451.6 118.9,462.6 118.5,478.6 117.2,497.3 105.8,497.3 81.4,497.3 80.1,478.6 79.7,462.6 80.1,451.6 81.4,445.6 83.0,439.6 84.8,433.6 86.3,429.6 88.4,424.6 89.8,421.9 91.8,418.9ZM138.3,415.6 146.1,415.6 147.6,419.6 149.1,426.6 149.8,439.6 149.7,449.6 149.3,454.6 148.3,462.6 147.1,468.6 145.8,472.8 144.8,474.8 144.2,475.6 143.8,476.1 142.8,476.8 141.8,476.9 140.8,476.5 139.9,475.6 138.8,473.8 137.8,471.3 136.5,466.6 135.7,461.6 134.9,455.6 134.5,450.6 134.5,439.6 135.3,426.6 136.8,419.6Z" fill="#004EFF"/>
<path d="M49.6,416.6 50.4,415.6 55.0,415.6 55.8,416.6 57.3,419.6 59.1,426.6 60.0,439.6 59.7,450.6 59.0,456.6 58.1,461.6 56.8,466.3 55.8,468.7 54.8,470.3 53.8,471.2 52.8,471.5 51.8,471.3 50.8,470.4 49.8,468.9 48.8,466.6 47.8,463.2 46.8,458.3 46.0,452.6 45.7,449.6 45.5,439.6 46.3,426.6 47.8,420.6 48.8,418.1ZM95.1,416.6 96.9,415.6 101.8,415.6 103.5,416.6 104.8,417.7 106.5,419.6 107.8,421.4 110.1,425.6 113.3,433.6 116.7,445.6 118.1,452.6 118.4,462.6 118.0,478.6 116.6,497.3 104.8,497.3 82.0,497.3 80.6,478.6 80.2,462.6 80.6,451.6 81.9,445.6 83.5,439.6 85.3,433.6 87.2,428.6 89.0,424.6 90.8,421.4 92.8,418.7ZM138.8,415.6 145.6,415.6 147.2,419.6 148.7,426.6 149.5,439.6 149.3,450.6 148.4,458.6 147.4,464.6 146.2,469.6 144.8,472.9 143.8,474.3 142.8,475.0 141.8,475.1 140.8,474.6 139.8,473.5 139.3,472.6 137.8,469.0 136.9,465.6 136.0,460.6 135.2,454.6 134.9,449.6 134.9,439.6 135.7,426.6 137.2,419.6Z" fill="#005CFF"/>
<path d="M50.5,416.6 51.7,415.6 53.7,415.6 54.8,416.4 55.8,417.8 56.8,419.7 57.8,422.8 58.7,426.6 59.6,439.6 59.3,450.6 58.6,455.6 57.7,460.6 56.5,464.6 55.2,467.6 53.8,469.2 52.8,469.5 51.8,469.3 50.8,468.4 49.8,466.7 48.8,464.2 47.8,460.5 46.9,455.6 46.2,450.6 45.9,439.6 46.7,426.6 47.7,422.6 48.7,419.6 49.8,417.5ZM96.6,416.6 97.8,416.2 99.8,416.0 101.8,416.5 102.8,417.0 104.8,418.6 105.8,419.7 108.4,423.6 110.8,428.6 113.1,434.6 116.2,445.6 117.6,452.6 117.9,462.6 117.4,478.6 116.0,497.3 102.8,497.3 82.6,497.3 81.9,489.6 81.2,478.6 80.8,463.6 81.0,453.6 81.2,451.6 82.4,445.6 84.3,438.6 85.8,433.6 88.2,427.6 89.8,424.2 92.1,420.6 94.8,417.7ZM139.4,415.6 145.0,415.6 145.8,417.1 146.8,419.6 148.4,426.6 149.1,439.6 148.9,450.6 148.0,458.6 146.9,464.6 145.8,468.5 144.3,471.6 143.8,472.4 142.8,473.2 141.8,473.3 140.8,472.8 139.8,471.6 138.8,469.6 137.8,466.7 136.8,462.4 136.0,457.6 135.3,451.6 135.2,439.6 136.0,426.6 137.6,419.6 138.8,416.7Z" fill="#006AFF"/>
<path d="M51.8,416.6 52.8,416.4 53.8,416.7 54.8,417.5 55.8,418.9 56.9,421.6 58.3,426.6 59.2,439.6 58.9,449.6 58.1,455.6 57.3,459.6 56.4,462.6 55.6,464.6 54.4,466.6 53.8,467.2 52.8,467.6 51.8,467.3 50.8,466.3 49.8,464.6 48.8,461.8 47.8,457.8 46.5,449.6 46.2,439.6 47.1,426.6 48.1,422.6 49.3,419.6 50.8,417.3ZM139.4,416.6 140.2,415.6 144.2,415.6 145.5,417.6 146.4,419.6 148.1,426.6 148.8,439.6 148.6,450.6 147.8,457.0 146.8,462.6 145.8,466.4 144.8,469.0 143.8,470.5 142.8,471.4 141.8,471.5 140.8,470.9 139.8,469.7 138.8,467.6 137.6,463.6 136.6,458.6 135.8,452.6 135.6,449.6 135.5,439.6 136.3,426.6 137.8,420.3 138.8,417.7ZM96.4,417.6 97.8,417.0 98.8,416.8 100.8,417.0 101.8,417.4 103.7,418.6 104.8,419.6 106.5,421.6 107.8,423.6 109.8,427.6 112.3,433.6 115.7,445.6 117.0,452.6 117.3,462.6 116.9,478.6 115.5,497.3 102.8,497.3 83.1,497.3 82.5,489.6 81.7,478.6 81.3,463.6 81.5,453.6 81.7,451.6 82.9,445.6 84.5,439.6 86.3,433.6 88.3,428.6 90.2,424.6 92.1,421.6 93.8,419.6 94.8,418.6Z" fill="#0078FF"/>
<path d="M140.1,416.6 140.8,415.9 141.3,415.6 143.1,415.6 143.8,416.0 144.8,417.3 146.3,420.6 147.8,426.6 148.5,439.6 148.2,450.6 147.3,457.6 146.3,462.6 145.0,466.6 143.9,468.6 142.8,469.6 141.8,469.7 140.8,469.1 139.8,467.8 139.3,466.6 138.5,464.6 137.5,460.6 136.6,455.6 136.0,450.6 135.8,439.6 136.6,426.6 137.6,422.6 138.5,419.6ZM51.9,417.6 52.8,417.4 53.8,417.7 54.8,418.6 55.8,420.1 57.1,423.6 57.9,426.6 58.8,439.6 58.4,450.6 57.1,457.6 55.8,462.1 54.8,464.1 53.8,465.2 52.8,465.6 51.8,465.3 50.8,464.3 49.8,462.4 48.3,457.6 47.1,450.6 46.6,439.6 47.5,426.6 47.7,425.6 48.8,422.0 49.8,419.7 50.8,418.4ZM96.2,418.6 97.8,417.9 98.8,417.7 100.8,417.9 101.8,418.2 103.8,419.6 104.8,420.5 106.5,422.6 107.8,424.6 110.1,429.6 112.1,434.6 115.2,445.6 116.5,452.6 116.8,462.6 116.4,478.6 114.9,497.3 102.8,497.3 83.7,497.3 83.2,491.6 82.2,479.6 81.8,463.6 82.0,453.6 82.2,451.6 83.4,445.6 85.0,439.6 86.9,433.6 88.5,429.6 90.3,425.6 91.8,423.1 93.8,420.5Z" fill="#0087FF"/>
<path d="M141.2,416.6 141.8,416.3 142.8,416.3 143.8,417.0 145.0,418.6 146.2,421.6 147.4,426.6 148.2,439.6 147.9,450.6 146.8,457.8 145.8,462.2 144.8,465.1 143.8,466.9 143.1,467.6 142.8,467.8 141.8,468.0 140.8,467.3 139.8,465.9 138.8,463.4 137.4,457.6 136.3,449.6 136.1,439.6 137.0,426.6 137.8,423.0 138.8,419.9 139.8,418.0 140.8,416.8ZM52.1,418.6 52.8,418.4 53.8,418.8 54.8,419.7 55.8,421.4 57.0,424.6 57.5,426.6 58.4,439.6 58.0,450.6 56.8,456.6 55.8,459.8 54.8,462.0 53.8,463.2 52.9,463.6 51.8,463.3 50.8,462.2 49.8,460.2 48.8,457.1 47.5,450.6 47.0,439.6 47.9,426.6 48.8,423.4 49.8,421.0 50.8,419.5ZM98.4,418.6 99.8,418.5 100.8,418.7 102.6,419.6 103.8,420.5 105.8,422.7 107.1,424.6 108.2,426.6 111.2,433.6 113.1,439.6 114.7,445.6 115.9,451.6 116.2,454.6 116.4,462.6 115.9,478.6 114.4,497.3 100.8,497.3 84.2,497.3 82.7,479.6 82.6,475.6 82.2,462.6 82.5,452.6 83.9,445.6 85.5,439.6 87.8,432.6 89.8,427.8 91.5,424.6 92.9,422.6 94.8,420.5 96.8,419.1Z" fill="#0095FF"/>
<path d="M141.1,417.6 141.8,417.2 142.8,417.2 143.8,417.9 144.8,419.3 145.8,421.7 147.1,426.6 147.9,439.6 147.6,449.6 146.8,455.4 145.8,460.1 145.0,462.6 143.8,465.1 143.3,465.6 142.8,466.1 141.8,466.2 140.8,465.5 139.8,464.0 138.8,461.3 137.8,457.3 136.7,449.6 136.5,439.6 137.3,426.6 138.0,423.6 139.0,420.6 139.8,419.0ZM52.2,419.6 52.8,419.5 53.8,419.8 54.8,420.9 55.8,422.8 56.8,425.6 57.1,426.6 58.0,439.6 57.6,449.6 56.8,454.1 55.8,457.6 54.8,459.9 53.8,461.2 53.0,461.6 51.8,461.3 50.8,460.1 49.8,458.0 48.8,454.7 47.9,449.6 47.4,439.6 48.3,426.6 49.8,422.3 50.8,420.6 51.8,419.7ZM97.7,419.6 99.8,419.4 101.8,420.0 102.8,420.6 104.0,421.6 105.8,423.6 107.8,427.0 110.7,433.6 112.6,439.6 114.2,445.6 115.5,451.6 115.7,453.6 115.9,462.6 115.4,478.6 113.8,497.3 101.8,497.3 84.8,497.3 83.2,479.6 82.7,462.6 82.9,453.6 83.1,451.6 84.4,445.6 86.0,439.6 87.9,433.6 90.8,427.0 92.1,424.6 93.8,422.4 95.8,420.6Z" fill="#00A3FF"/>
<path d="M140.9,418.6 141.8,418.1 142.8,418.2 143.8,418.9 144.8,420.4 145.8,423.0 146.8,426.6 147.6,439.6 147.2,449.6 146.3,455.6 145.8,458.0 144.8,461.2 143.8,463.3 142.8,464.3 141.8,464.5 140.8,463.7 139.8,462.1 138.8,459.3 138.1,456.6 137.1,449.6 136.8,439.6 137.6,426.6 139.1,421.6 139.8,420.0ZM97.4,420.6 98.8,420.2 99.8,420.2 101.2,420.6 102.8,421.5 104.8,423.3 107.0,426.6 110.2,433.6 112.2,439.6 113.8,445.6 115.0,451.6 115.2,453.6 115.4,462.6 115.0,478.6 113.3,497.3 101.8,497.3 85.3,497.3 83.7,479.6 83.2,462.6 83.4,454.6 83.6,451.6 84.8,445.6 86.4,439.6 88.4,433.6 90.8,428.1 92.8,424.6 93.8,423.3 95.8,421.5ZM51.1,421.6 51.8,420.9 52.8,420.6 53.8,421.0 54.8,422.2 56.4,425.6 56.7,426.6 57.6,439.6 57.1,449.6 56.8,451.6 55.8,455.4 54.8,457.9 53.8,459.2 53.1,459.6 52.8,459.7 51.8,459.4 50.8,458.1 49.4,454.6 48.3,449.6 47.9,441.6 47.8,439.6 48.7,426.6 49.8,423.6Z" fill="#00B1FF"/>
<path d="M140.8,419.6 141.8,419.0 142.8,419.1 143.8,419.9 144.8,421.5 145.8,424.2 146.4,426.6 147.3,439.6 146.9,449.6 146.1,454.6 144.8,459.3 143.8,461.5 142.8,462.6 141.8,462.7 140.8,461.9 139.8,460.2 138.4,455.6 137.4,449.6 137.1,439.6 137.9,426.6 139.2,422.6 139.8,421.1ZM97.1,421.6 98.8,421.1 99.8,421.1 101.8,421.7 103.1,422.6 104.8,424.3 106.8,427.3 109.8,433.6 111.7,439.6 113.3,445.6 114.5,451.6 114.7,453.6 115.0,462.6 114.5,478.6 112.8,497.3 101.8,497.3 85.8,497.3 84.1,479.6 83.6,462.6 83.8,454.6 84.1,451.6 85.3,445.6 86.9,439.6 88.5,434.6 90.8,429.2 92.2,426.6 93.8,424.3 95.8,422.3ZM51.3,422.6 51.8,422.1 52.8,421.8 53.8,422.2 54.8,423.4 55.9,425.6 56.2,426.6 57.2,439.6 56.5,450.6 55.3,454.6 54.8,455.8 53.8,457.3 52.8,457.8 51.8,457.4 50.8,456.1 49.5,452.6 49.0,450.6 48.7,448.6 48.2,439.6 49.2,426.6 49.8,424.9 50.8,423.1Z" fill="#00BFFF"/>
<path d="M140.9,420.6 141.8,420.0 142.8,420.0 143.8,420.9 144.8,422.7 145.8,425.4 146.1,426.6 147.0,439.6 146.5,449.6 146.0,452.6 144.8,457.4 143.8,459.7 143.0,460.6 142.8,460.8 141.8,461.0 140.8,460.2 139.8,458.3 138.8,455.1 137.8,449.6 137.4,439.6 138.3,426.6 139.8,422.3ZM96.8,422.6 98.8,421.9 100.8,422.1 101.8,422.6 102.8,423.2 104.3,424.6 106.8,428.4 109.3,433.6 111.2,439.6 112.8,445.6 114.1,451.6 114.3,453.6 114.6,462.6 114.1,478.6 112.3,497.3 102.8,497.3 86.3,497.3 84.6,479.6 84.0,462.6 84.3,454.6 84.5,451.6 85.8,445.6 87.4,439.6 88.8,435.1 90.8,430.4 92.3,427.6 93.8,425.3 94.8,424.1ZM51.5,423.6 51.8,423.3 52.8,423.0 53.8,423.4 54.8,424.7 55.7,426.6 56.8,439.6 55.9,450.6 54.8,453.7 53.8,455.3 52.8,455.9 51.8,455.5 50.6,453.6 49.8,451.5 49.4,449.6 48.8,442.8 48.6,439.6 49.7,426.6 50.8,424.4Z" fill="#00CDFF"/>
<path d="M141.0,421.6 141.8,421.0 142.8,421.1 143.8,422.0 144.8,423.9 145.7,426.6 146.6,439.6 146.1,449.6 145.8,451.6 144.8,455.6 143.8,457.9 142.8,459.1 141.8,459.3 140.8,458.4 139.5,455.6 138.3,450.6 137.9,443.6 137.7,439.6 138.7,426.6 139.8,423.4ZM96.6,423.6 97.8,423.0 98.8,422.8 100.8,423.0 101.8,423.4 103.8,425.0 106.3,428.6 108.8,433.6 110.8,439.6 112.4,445.6 113.6,451.6 113.8,453.6 114.1,462.6 113.6,478.6 111.8,497.3 102.8,497.3 86.8,497.3 85.1,479.6 84.5,462.6 84.7,454.6 85.0,451.6 86.2,445.6 88.5,437.6 89.8,433.6 90.7,431.6 92.3,428.6 93.8,426.3 95.2,424.6ZM51.7,424.6 52.8,424.2 53.8,424.7 55.1,426.6 56.3,439.6 55.4,449.6 54.8,451.7 53.8,453.3 52.8,453.9 51.8,453.5 50.8,452.0 50.3,450.6 49.8,448.0 49.1,440.6 49.1,439.6 50.3,426.6 50.8,425.6Z" fill="#00DCFF"/>
<path d="M141.1,422.6 141.8,422.1 142.8,422.2 143.8,423.1 144.8,425.0 145.3,426.6 145.8,432.4 146.3,439.6 145.7,449.6 144.8,453.6 143.8,456.1 143.4,456.6 142.8,457.4 141.8,457.5 140.8,456.6 139.8,454.5 138.8,450.9 138.6,449.6 138.1,439.6 139.1,426.6 139.8,424.5 140.8,422.8ZM96.4,424.6 97.8,423.8 98.8,423.6 100.8,423.8 102.8,425.0 104.2,426.6 105.8,428.8 108.3,433.6 110.3,439.6 112.0,445.6 113.2,451.6 113.4,453.6 113.7,462.6 113.2,478.6 111.3,497.3 102.8,497.3 87.3,497.3 85.5,479.6 84.9,462.6 85.2,453.6 85.4,451.6 87.2,443.6 88.3,439.6 90.3,433.6 91.8,430.6 93.6,427.6 94.8,426.0ZM52.1,425.6 52.8,425.4 53.8,425.9 54.3,426.6 54.8,429.6 55.9,439.6 54.8,448.8 54.2,450.6 53.8,451.4 53.4,451.6 52.8,452.0 51.8,451.5 50.8,449.7 49.6,439.6 50.8,428.1 51.1,426.6 51.8,425.7Z" fill="#00EAFF"/>
<path d="M141.2,423.6 141.8,423.1 142.8,423.2 143.8,424.2 144.9,426.6 145.9,439.6 145.1,450.6 143.8,454.3 142.8,455.6 141.8,455.8 140.8,454.9 139.8,452.6 139.1,449.6 138.5,440.6 139.5,426.6 140.4,424.6ZM98.2,424.6 99.8,424.5 100.8,424.7 102.8,426.0 104.8,428.3 107.3,432.6 108.1,434.6 109.8,439.4 111.5,445.6 112.8,451.6 113.0,454.6 113.3,462.6 112.7,478.6 110.7,497.3 100.8,497.3 87.9,497.3 85.9,479.6 85.5,468.6 85.3,462.6 85.7,452.6 87.1,445.6 88.7,439.6 90.8,433.6 92.8,429.9 94.4,427.6 95.8,426.0 96.8,425.2ZM52.3,427.6 52.8,426.8 53.8,429.2 54.8,435.4 55.3,439.6 54.8,443.6 54.0,447.6 53.8,448.3 53.0,449.6 52.8,449.8 51.8,448.8 50.8,444.7 50.2,439.6 50.8,433.9 51.8,428.4Z" fill="#00F8FF"/>
<path d="M141.3,424.6 141.8,424.2 142.8,424.3 143.8,425.3 144.4,426.6 145.6,439.6 144.7,449.6 143.8,452.5 142.8,453.9 141.8,454.1 140.8,453.1 139.8,450.7 138.8,439.8 140.0,426.6 140.8,425.0ZM98.0,425.6 99.8,425.4 100.8,425.7 102.8,427.0 104.8,429.3 106.8,432.7 107.8,435.0 109.4,439.6 111.1,445.6 112.3,451.6 112.6,454.6 112.8,462.6 112.3,478.6 110.2,497.3 100.8,497.3 88.4,497.3 86.3,478.6 85.8,462.6 86.0,454.6 86.3,451.6 87.5,445.6 89.2,439.6 90.8,435.0 91.8,432.7 93.6,429.6 94.8,428.0 96.8,426.2ZM52.2,433.6 52.8,432.7 53.8,435.0 54.6,439.6 53.8,443.5 53.2,444.6 52.8,445.3 51.8,444.1 50.8,439.6 51.8,434.3Z" fill="#07FFF8"/>
<path d="M141.4,425.6 141.8,425.2 142.8,425.3 143.9,426.6 145.2,439.6 144.8,444.1 144.1,449.6 143.8,450.7 143.2,451.6 142.8,452.2 141.8,452.4 140.8,451.3 140.5,450.6 139.8,446.5 139.3,440.6 139.2,439.6 139.8,433.0 140.6,426.6ZM97.8,426.6 98.8,426.3 99.8,426.3 100.8,426.6 101.8,427.1 103.8,429.0 105.0,430.6 106.7,433.6 108.9,439.6 110.7,445.6 111.9,451.6 112.2,454.6 112.4,462.6 111.8,478.6 109.7,497.3 100.8,497.3 88.9,497.3 86.8,478.6 86.2,462.6 86.4,454.6 86.7,451.6 87.9,445.6 89.7,439.6 91.9,433.6 93.6,430.6 94.8,429.0 96.8,427.1ZM52.7,438.6 52.8,438.5 53.3,439.6 52.8,440.6 52.1,439.6Z" fill="#15FFEA"/>
<path d="M141.5,426.6 141.8,426.4 142.9,426.6 143.8,431.1 144.7,439.6 143.8,447.1 142.8,450.4 142.0,450.6 141.8,450.6 141.2,449.6 140.8,448.5 139.7,439.6 140.8,429.7ZM97.7,427.6 98.8,427.3 99.8,427.3 100.8,427.6 101.8,428.1 103.8,430.0 106.1,433.6 108.5,439.6 110.2,445.6 111.5,451.6 111.7,453.6 112.0,462.6 111.4,478.6 110.4,487.6 109.2,497.3 101.8,497.3 89.4,497.3 88.2,487.6 87.2,478.6 86.6,462.6 86.9,454.6 87.1,451.6 88.4,445.6 90.1,439.6 92.5,433.6 94.8,430.0 96.2,428.6Z" fill="#23FFDC"/>
<path d="M97.6,428.6 98.8,428.2 99.8,428.2 100.8,428.5 101.8,429.1 103.8,431.0 105.6,433.6 108.0,439.6 109.8,445.6 111.3,453.6 111.6,462.6 111.0,478.6 109.8,488.6 108.6,497.3 101.8,497.3 90.0,497.3 88.8,488.6 87.6,478.6 87.0,462.6 87.3,453.6 87.6,451.6 88.8,445.6 89.7,442.6 90.8,439.1 92.6,434.6 93.7,432.6 94.8,431.0 95.8,429.9ZM141.6,431.6 141.8,430.7 142.8,431.2 143.8,436.2 144.2,439.6 143.8,442.7 142.8,446.6 141.8,447.1 140.8,444.0 140.2,439.6 140.8,434.8Z" fill="#32FFCD"/>
<path d="M97.6,429.6 98.8,429.2 99.8,429.2 100.8,429.5 102.8,430.9 104.9,433.6 107.1,438.6 108.8,443.7 109.8,447.8 110.8,453.6 111.2,462.6 110.5,478.6 109.5,487.6 108.1,497.3 101.8,497.3 90.5,497.3 89.1,487.6 88.1,478.6 87.4,462.6 87.8,453.6 88.0,451.6 89.8,443.7 91.1,439.6 92.8,435.4 93.7,433.6 94.8,432.0 95.8,430.9ZM141.6,436.6 141.8,435.8 142.8,436.3 143.5,439.6 142.8,442.4 141.8,442.9 140.9,439.6Z" fill="#40FFBF"/>
<path d="M97.5,430.6 98.8,430.1 99.8,430.1 100.8,430.4 102.8,431.8 103.8,433.0 104.8,434.5 107.0,439.6 108.8,445.3 110.4,453.6 110.8,462.6 110.1,478.6 108.8,489.1 107.5,497.3 101.8,497.3 91.1,497.3 89.8,489.1 88.5,478.6 87.8,462.6 88.2,453.6 88.5,451.6 89.8,445.3 91.6,439.6 92.8,436.7 93.8,434.5 94.8,433.0 95.8,431.8Z" fill="#4EFFB1"/>
<path d="M97.4,431.6 98.8,431.1 99.8,431.1 100.8,431.4 102.8,432.8 104.1,434.6 106.5,439.6 107.8,443.6 108.8,447.3 110.0,453.6 110.3,462.6 109.6,478.6 108.5,487.6 106.9,497.3 101.8,497.3 91.7,497.3 90.1,487.6 89.0,478.6 88.3,462.6 88.6,453.6 88.9,451.6 90.2,445.6 91.8,440.5 92.8,438.0 95.1,433.6 95.8,432.8Z" fill="#5CFFA3"/>
<path d="M97.3,432.6 98.8,432.0 99.8,432.0 100.8,432.3 102.6,433.6 103.8,435.3 105.9,439.6 107.8,445.0 109.5,453.6 109.9,462.6 109.2,478.6 108.3,485.6 107.0,493.6 106.3,497.3 101.8,497.3 92.3,497.3 90.8,488.9 89.4,478.6 88.7,462.6 89.1,453.6 89.3,451.6 90.6,445.6 92.8,439.3 95.3,434.6 96.0,433.6Z" fill="#6AFF95"/>
<path d="M97.2,433.6 98.8,433.0 99.8,433.0 100.8,433.3 101.8,433.9 103.8,436.5 105.4,439.6 107.5,445.6 109.1,453.6 109.5,462.6 108.8,477.3 108.6,479.6 107.3,488.6 105.6,497.3 101.8,497.3 93.0,497.3 91.3,488.6 89.9,478.6 89.1,462.6 89.5,453.6 89.8,451.6 91.1,445.6 93.2,439.6 94.8,436.5 95.8,435.0Z" fill="#78FF87"/>
<path d="M97.5,434.6 98.8,434.0 99.8,434.0 100.8,434.4 101.8,435.1 103.8,437.8 104.8,439.7 107.0,445.6 108.6,453.6 109.0,463.6 108.3,478.6 107.7,482.6 106.4,490.6 104.9,497.3 101.8,497.3 93.7,497.3 91.8,488.3 90.3,478.6 89.5,462.6 90.1,452.6 91.6,445.6 93.8,439.7 95.8,436.3Z" fill="#87FF78"/>
<path d="M97.8,435.6 98.8,435.2 99.8,435.2 100.8,435.6 101.8,436.4 102.8,437.6 104.1,439.6 106.5,445.6 108.0,452.6 108.3,456.6 108.6,462.6 107.8,478.3 106.5,486.6 105.3,492.6 104.1,497.3 100.8,497.3 94.5,497.3 92.8,490.4 90.9,479.6 90.0,463.6 90.4,453.6 92.1,445.6 93.8,441.2 94.8,439.1 96.8,436.4Z" fill="#95FF6A"/>
<path d="M98.5,436.6 99.8,436.5 100.8,436.9 101.8,437.6 102.8,438.8 103.8,440.5 105.8,445.2 107.7,453.6 108.2,462.6 107.3,478.6 105.8,487.3 104.8,491.8 103.1,497.3 100.8,497.3 95.5,497.3 94.8,495.4 92.8,487.3 91.4,479.6 90.5,463.6 90.9,453.6 92.6,445.6 93.8,442.6 95.3,439.6 96.8,437.6 97.8,436.9Z" fill="#A3FF5C"/>
<path d="M97.2,438.6 97.8,438.1 98.8,437.7 99.8,437.7 100.8,438.1 101.8,438.9 102.8,440.2 103.8,441.9 105.4,445.6 107.2,453.6 107.7,462.6 106.7,479.6 105.8,484.3 104.3,490.6 102.8,495.4 101.8,497.3 96.7,497.3 95.2,493.6 93.8,488.9 92.8,484.3 91.8,478.6 90.9,462.6 91.4,453.6 93.2,445.6 94.8,441.9 95.8,440.2Z" fill="#B1FF4E"/>
<path d="M97.5,439.6 98.8,439.0 99.8,439.0 101.1,439.6 102.8,441.6 104.8,445.6 106.3,451.6 106.8,454.6 107.2,462.6 106.1,479.6 104.8,485.9 103.8,489.7 102.3,493.6 101.8,494.8 100.8,496.2 99.8,496.9 98.8,496.9 97.8,496.2 96.8,494.8 96.3,493.6 94.8,489.7 93.8,485.9 92.5,479.6 91.4,463.6 91.9,453.6 92.8,449.4 93.8,445.6 94.8,443.4 95.8,441.6Z" fill="#BFFF40"/>
<path d="M98.2,440.6 98.8,440.3 99.8,440.3 100.8,440.8 101.8,441.7 102.8,443.1 104.1,445.6 106.2,453.6 106.8,462.6 105.5,479.6 103.9,486.6 102.8,489.9 101.8,492.1 100.6,493.6 99.8,494.2 98.8,494.2 97.8,493.5 96.8,492.1 96.1,490.6 94.8,486.9 93.8,483.0 92.9,478.6 91.9,463.6 92.4,453.6 93.8,447.9 94.5,445.6 95.8,443.1 96.8,441.7Z" fill="#CDFF32"/>
<path d="M97.4,442.6 98.8,441.8 99.8,441.8 100.8,442.3 101.8,443.2 102.8,444.6 103.4,445.6 104.8,450.2 105.7,454.6 106.2,462.6 105.0,478.6 103.8,484.0 102.8,487.1 101.8,489.3 101.0,490.6 99.8,491.6 98.8,491.6 97.8,490.8 97.0,489.6 95.8,487.1 94.8,484.0 93.7,479.6 92.8,469.3 92.4,462.6 93.0,453.6 93.8,450.2 95.2,445.6 96.8,443.2Z" fill="#DCFF23"/>
<path d="M98.1,443.6 98.8,443.3 99.8,443.3 100.8,443.7 101.8,444.7 102.8,446.4 103.8,449.2 105.0,453.6 105.7,462.6 104.8,474.2 104.2,479.6 102.8,484.3 101.8,486.6 100.8,488.2 100.2,488.6 99.8,488.9 98.8,488.9 97.8,488.2 96.3,485.6 94.8,481.2 94.2,478.6 92.9,463.6 93.5,454.6 93.8,452.5 94.8,449.2 96.1,445.6 96.8,444.7Z" fill="#EAFF15"/>
<path d="M97.4,445.6 98.8,444.8 99.8,444.8 100.8,445.2 101.8,446.5 102.8,448.7 104.4,453.6 104.8,458.2 105.1,463.6 103.6,478.6 102.8,481.6 101.8,483.9 100.8,485.5 99.8,486.2 98.8,486.2 97.8,485.5 96.8,483.9 95.8,481.6 95.0,478.6 93.8,467.0 93.5,462.6 94.2,453.6 95.8,448.7Z" fill="#F8FF07"/>
<path d="M97.7,447.6 98.8,446.7 99.8,446.7 100.8,447.4 101.8,448.9 102.8,451.1 103.7,453.6 103.8,454.6 104.5,462.6 103.8,470.2 102.8,478.6 101.8,481.2 100.9,482.6 99.8,483.6 98.8,483.6 97.8,482.8 96.8,481.2 96.1,479.6 95.8,478.3 95.2,473.6 94.2,463.6 94.1,462.6 94.9,453.6 95.8,451.1 96.8,448.9Z" fill="#FFF800"/>
<path d="M98.1,449.6 98.8,449.1 99.8,449.1 100.8,449.8 101.8,451.3 102.4,452.6 102.8,453.6 103.8,462.6 102.8,471.5 101.8,477.6 101.1,479.6 100.2,480.6 99.8,480.9 98.8,480.9 97.8,480.1 97.1,478.6 95.8,471.5 94.8,462.9 95.8,453.6 96.8,451.3Z" fill="#FFEA00"/>
<path d="M98.7,451.6 99.8,451.5 100.8,452.3 101.7,453.6 103.0,462.6 101.8,470.9 100.8,475.0 100.0,476.6 99.8,477.0 98.8,477.0 97.8,475.0 96.8,470.9 95.6,462.6 96.9,453.6 97.8,452.3Z" fill="#FFDC00"/>
<path d="M98.7,454.6 98.8,454.4 99.8,454.4 100.8,456.6 102.0,462.6 101.8,464.2 100.8,468.4 100.2,469.6 99.8,470.4 98.8,470.4 97.8,468.4 96.7,463.6 96.6,462.6 96.8,461.3 97.8,456.6Z" fill="#FFCD00"/>
<path d="M98.4,462.6 98.8,461.6 99.8,461.6 100.2,462.6 99.9,463.6 99.8,463.9 98.8,463.9Z" fill="#FFBF00"/>
<text x="26.3" y="419.0" text-anchor="end" font-size="10">0</text>
<text x="26.3" y="437.2" text-anchor="end" font-size="10">2</text>
<text x="26.3" y="455.3" text-anchor="end" font-size="10">4</text>
<text x="26.3" y="473.5" text-anchor="end" font-size="10">6</text>
<text x="26.3" y="491.6" text-anchor="end" font-size="10">8</text>
<text x="59.1" y="508.7" text-anchor="middle" font-size="10">10</text>
<text x="94.4" y="508.7" text-anchor="middle" font-size="10">20</text>
<text x="129.7" y="508.7" text-anchor="middle" font-size="10">30</text>
<text x="165.0" y="508.7" text-anchor="middle" font-size="10">40</text>
<text x="14.4" y="456.0" text-anchor="middle" font-size="10" transform="rotate(-90 14.4 456.0)" letter-spacing="0.7"><tspan font-style="italic">z</tspan>/km</text>
<text x="99.9" y="517.3" text-anchor="middle" font-size="10" letter-spacing="0.25"><tspan font-style="italic">x</tspan>/km</text>
<text x="103.1" y="541.9" text-anchor="middle" font-size="7">(<tspan font-weight="bold">g</tspan>)</text>
<path d="M48.9,435.8V433.6H56.6V435.8M48.9,439.7V447.3M56.6,439.7V447.3M48.9,453.1H56.6M138.3,435.8V433.6H145.9V435.8M138.3,439.7V447.3M145.9,439.7V447.3M138.3,453.1H145.9" fill="none" stroke="#2e2c1a" stroke-width=".8"/>
<rect x="90.1" y="452.4" width="17.3" height="27.9" fill="none" stroke="#2e2c1a" stroke-width=".8" stroke-dasharray="8.2 4.1"/>
<rect x="176.8" y="415.6" width="10.2" height="82.1" fill="url(#jet)"/>
<text x="185" y="410.3" text-anchor="middle" font-size="10">kg/m<tspan font-size="6" dy="-3.5">3</tspan></text>
<text x="188.3" y="418.9" text-anchor="start" font-size="10">480</text>
<text x="188.3" y="432.5" text-anchor="start" font-size="10">400</text>
<text x="188.3" y="449.5" text-anchor="start" font-size="10">300</text>
<text x="188.3" y="466.6" text-anchor="start" font-size="10">200</text>
<text x="188.3" y="483.6" text-anchor="start" font-size="10">100</text>
<text x="188.3" y="500.7" text-anchor="start" font-size="10">0</text>
<line x1="236.4" y1="225.4" x2="379.9" y2="222.9" stroke="#404040" stroke-width=".95" stroke-dasharray="1.5 2.9"/>
<line x1="379.9" y1="222.9" x2="400.0" y2="237.5" stroke="#404040" stroke-width=".95" stroke-dasharray="1.5 2.9"/>
<line x1="380.4" y1="125.9" x2="379.9" y2="222.9" stroke="#404040" stroke-width=".95" stroke-dasharray="1.5 2.9"/>
<path d="M265.0,153.6H276.9V174.3H265.0ZM268.9,156.5H281.2V178.3H268.9ZM265.0,153.6L268.9,156.5M276.9,153.6L281.2,156.5M265.0,174.3L268.9,178.3M276.9,174.3L281.2,178.3" fill="none" stroke="#0000FF" stroke-width="1.05"/>
<rect x="315.5" y="164.1" width="3.7" height="10.3" fill="#D83000"/>
<rect x="319.1" y="164.1" width="3.4" height="10.3" fill="#FF6000"/>
<rect x="322.5" y="164.1" width="3.9" height="10.3" fill="#F03000"/>
<rect x="326.3" y="164.1" width="4.1" height="10.3" fill="#FF6800"/>
<rect x="311.8" y="174.3" width="2.9" height="12.2" fill="#FF5000"/>
<rect x="314.7" y="174.3" width="4.0" height="12.2" fill="#E82000"/>
<rect x="318.6" y="174.3" width="3.9" height="12.2" fill="#F02400"/>
<rect x="322.5" y="174.3" width="3.9" height="12.2" fill="#EE2000"/>
<rect x="326.3" y="174.3" width="4.1" height="12.2" fill="#F03800"/>
<rect x="330.4" y="174.3" width="3.7" height="12.2" fill="#F84800"/>
<rect x="311.8" y="186.5" width="2.9" height="10.1" fill="#F84400"/>
<rect x="314.7" y="186.5" width="4.0" height="10.1" fill="#EA2200"/>
<rect x="318.6" y="186.5" width="3.9" height="10.1" fill="#F02400"/>
<rect x="322.5" y="186.5" width="3.9" height="10.1" fill="#FF6000"/>
<rect x="326.3" y="186.5" width="4.1" height="10.1" fill="#F03000"/>
<rect x="330.4" y="186.5" width="3.7" height="10.1" fill="#F84400"/>
<rect x="312.3" y="196.5" width="5.9" height="13.1" fill="#FF5800"/>
<rect x="318.1" y="196.5" width="4.8" height="13.1" fill="#EE2400"/>
<rect x="322.9" y="196.5" width="4.5" height="13.1" fill="#FF6000"/>
<rect x="327.3" y="196.5" width="6.8" height="13.1" fill="#F03000"/>
<rect x="313.2" y="209.5" width="5.0" height="9.2" fill="#FF5800"/>
<rect x="318.1" y="209.5" width="4.8" height="9.2" fill="#F02800"/>
<rect x="322.9" y="209.5" width="4.5" height="9.2" fill="#F81800"/>
<rect x="327.3" y="209.5" width="5.9" height="9.2" fill="#F84000"/>
<rect x="316.8" y="218.7" width="4.2" height="10.3" fill="#F04000"/>
<rect x="321.0" y="218.7" width="4.9" height="10.3" fill="#FF5000"/>
<rect x="325.8" y="218.7" width="3.4" height="10.3" fill="#F03800"/>
<rect x="315.5" y="164.0" width="14.9" height=".55" fill="#6a0c00" opacity=".75"/>
<rect x="318.90" y="164.1" width=".4" height="10.2" fill="#8a1000" opacity=".55"/>
<rect x="322.30" y="164.1" width=".4" height="10.2" fill="#8a1000" opacity=".55"/>
<rect x="326.10" y="164.1" width=".4" height="10.2" fill="#8a1000" opacity=".55"/>
<rect x="311.8" y="174.2" width="22.2" height=".55" fill="#6a0c00" opacity=".75"/>
<rect x="314.50" y="174.3" width=".4" height="12.2" fill="#8a1000" opacity=".55"/>
<rect x="318.40" y="174.3" width=".4" height="12.2" fill="#8a1000" opacity=".55"/>
<rect x="322.30" y="174.3" width=".4" height="12.2" fill="#8a1000" opacity=".55"/>
<rect x="326.10" y="174.3" width=".4" height="12.2" fill="#8a1000" opacity=".55"/>
<rect x="330.20" y="174.3" width=".4" height="12.2" fill="#8a1000" opacity=".55"/>
<rect x="311.8" y="186.4" width="22.2" height=".55" fill="#6a0c00" opacity=".75"/>
<rect x="314.50" y="186.5" width=".4" height="10.0" fill="#8a1000" opacity=".55"/>
<rect x="318.40" y="186.5" width=".4" height="10.0" fill="#8a1000" opacity=".55"/>
<rect x="322.30" y="186.5" width=".4" height="10.0" fill="#8a1000" opacity=".55"/>
<rect x="326.10" y="186.5" width=".4" height="10.0" fill="#8a1000" opacity=".55"/>
<rect x="330.20" y="186.5" width=".4" height="10.0" fill="#8a1000" opacity=".55"/>
<rect x="312.3" y="196.4" width="21.7" height=".55" fill="#6a0c00" opacity=".75"/>
<rect x="317.90" y="196.5" width=".4" height="13.0" fill="#8a1000" opacity=".55"/>
<rect x="322.70" y="196.5" width=".4" height="13.0" fill="#8a1000" opacity=".55"/>
<rect x="327.10" y="196.5" width=".4" height="13.0" fill="#8a1000" opacity=".55"/>
<rect x="313.2" y="209.4" width="19.9" height=".55" fill="#6a0c00" opacity=".75"/>
<rect x="317.90" y="209.5" width=".4" height="9.2" fill="#8a1000" opacity=".55"/>
<rect x="322.70" y="209.5" width=".4" height="9.2" fill="#8a1000" opacity=".55"/>
<rect x="327.10" y="209.5" width=".4" height="9.2" fill="#8a1000" opacity=".55"/>
<rect x="316.8" y="218.6" width="12.4" height=".55" fill="#6a0c00" opacity=".75"/>
<rect x="320.80" y="218.7" width=".4" height="10.2" fill="#8a1000" opacity=".55"/>
<rect x="325.60" y="218.7" width=".4" height="10.2" fill="#8a1000" opacity=".55"/>
<rect x="316.8" y="228.6" width="12.4" height=".6" fill="#6a0c00" opacity=".7"/>
<path d="M305.5,174.3H338.0V207.1H305.5ZM309.7,177.1H340.8V209.8H309.7ZM305.5,174.3L309.7,177.1M338.0,174.3L340.8,177.1M305.5,207.1L309.7,209.8M338.0,207.1L340.8,209.8" fill="none" stroke="#0000FF" stroke-width="1.05"/>
<rect x="366.3" y="154.6" width="7.7" height="10.0" fill="#F84C00"/>
<rect x="366.3" y="154.6" width="3.9" height="10.0" fill="#F04000"/>
<rect x="370.0" y="154.6" width="0.5" height="10.0" fill="#a82000"/>
<rect x="366.3" y="154.4" width="7.7" height="0.7" fill="#7a1400"/>
<path d="M362.3,152.4H373.3V173.7H362.3ZM365.9,155.5H377.2V176.7H365.9ZM362.3,152.4L365.9,155.5M373.3,152.4L377.2,155.5M362.3,173.7L365.9,176.7M373.3,173.7L377.2,176.7" fill="none" stroke="#0000FF" stroke-width="1.05"/>
<line x1="236.4" y1="128.4" x2="380.4" y2="125.9" stroke="#404040" stroke-width=".95"/>
<line x1="256.2" y1="143.2" x2="399.8" y2="140.4" stroke="#404040" stroke-width=".95"/>
<line x1="236.4" y1="128.4" x2="256.2" y2="143.2" stroke="#404040" stroke-width=".95"/>
<line x1="380.4" y1="125.9" x2="399.8" y2="140.4" stroke="#404040" stroke-width=".95"/>
<line x1="236.4" y1="128.4" x2="236.4" y2="225.4" stroke="#404040" stroke-width=".95"/>
<line x1="256.2" y1="143.2" x2="256.4" y2="239.5" stroke="#404040" stroke-width=".95"/>
<line x1="399.8" y1="140.4" x2="400.0" y2="237.5" stroke="#404040" stroke-width=".95"/>
<line x1="236.4" y1="225.4" x2="256.4" y2="239.5" stroke="#404040" stroke-width=".95"/>
<line x1="256.4" y1="239.5" x2="400.0" y2="237.5" stroke="#404040" stroke-width=".95"/>
<line x1="236.4" y1="147.8" x2="233.8" y2="146.2" stroke="#3a3a3a" stroke-width=".7"/>
<line x1="236.4" y1="167.2" x2="233.8" y2="165.6" stroke="#3a3a3a" stroke-width=".7"/>
<line x1="236.4" y1="186.6" x2="233.8" y2="185.0" stroke="#3a3a3a" stroke-width=".7"/>
<line x1="236.4" y1="206.0" x2="233.8" y2="204.4" stroke="#3a3a3a" stroke-width=".7"/>
<line x1="236.4" y1="225.4" x2="233.8" y2="223.8" stroke="#3a3a3a" stroke-width=".7"/>
<line x1="256.4" y1="239.5" x2="256.4" y2="241.7" stroke="#3a3a3a" stroke-width=".7"/>
<line x1="289.6" y1="239.0" x2="289.6" y2="241.2" stroke="#3a3a3a" stroke-width=".7"/>
<line x1="326.5" y1="238.5" x2="326.5" y2="240.7" stroke="#3a3a3a" stroke-width=".7"/>
<line x1="363.3" y1="238.0" x2="363.3" y2="240.2" stroke="#3a3a3a" stroke-width=".7"/>
<line x1="400.0" y1="237.5" x2="400.0" y2="239.7" stroke="#3a3a3a" stroke-width=".7"/>
<line x1="236.4" y1="225.4" x2="236.8" y2="227.2" stroke="#3a3a3a" stroke-width=".7"/>
<line x1="246.4" y1="232.5" x2="246.8" y2="234.3" stroke="#3a3a3a" stroke-width=".7"/>
<text x="232.5" y="127.7" text-anchor="end" font-size="10">0</text>
<text x="232.3" y="147.3" text-anchor="end" font-size="10">2</text>
<text x="232.3" y="166.9" text-anchor="end" font-size="10">4</text>
<text x="232.3" y="186.4" text-anchor="end" font-size="10">6</text>
<text x="232.3" y="205.8" text-anchor="end" font-size="10">8</text>
<text x="234.4" y="224.3" text-anchor="end" font-size="10">10</text>
<text x="219.3" y="174.0" text-anchor="middle" font-size="10" transform="rotate(-90 219.3 174.0)" letter-spacing="0.35"><tspan font-style="italic">z</tspan>/km</text>
<text x="233.2" y="239.1" text-anchor="middle" font-size="10">20</text>
<text x="244.1" y="245.5" text-anchor="middle" font-size="10">10</text>
<text x="220.4" y="245.5" text-anchor="middle" font-size="10"><tspan font-style="italic">y</tspan>/km</text>
<text x="256.1" y="253.3" text-anchor="middle" font-size="10">0</text>
<text x="290.6" y="251.4" text-anchor="middle" font-size="10">10</text>
<text x="326.3" y="251.0" text-anchor="middle" font-size="10">20</text>
<text x="364.0" y="250.0" text-anchor="middle" font-size="10">30</text>
<text x="401.8" y="250.3" text-anchor="middle" font-size="10">40</text>
<text x="334.2" y="264.1" text-anchor="middle" font-size="10" letter-spacing="0.3"><tspan font-style="italic">x</tspan>/km</text>
<text x="306.0" y="273.9" text-anchor="middle" font-size="7">(<tspan font-weight="bold">d</tspan>)</text>
<line x1="236.4" y1="493.2" x2="379.9" y2="490.7" stroke="#404040" stroke-width=".95" stroke-dasharray="1.5 2.9"/>
<line x1="379.9" y1="490.7" x2="400.0" y2="505.3" stroke="#404040" stroke-width=".95" stroke-dasharray="1.5 2.9"/>
<line x1="380.4" y1="393.7" x2="379.9" y2="490.7" stroke="#404040" stroke-width=".95" stroke-dasharray="1.5 2.9"/>
<path d="M265.0,421.4H276.9V442.1H265.0ZM268.9,424.3H281.2V446.1H268.9ZM265.0,421.4L268.9,424.3M276.9,421.4L281.2,424.3M265.0,442.1L268.9,446.1M276.9,442.1L281.2,446.1" fill="none" stroke="#0000FF" stroke-width="1.05"/>
<rect x="316.9" y="443.4" width="12.7" height="21.7" fill="#A80000"/>
<rect x="321.0" y="465.1" width="4.7" height="11.0" fill="#A80000"/>
<rect x="320.6" y="444.1" width="3.2" height="10.2" fill="#C41010"/>
<rect x="323.8" y="455.1" width="3.2" height="9.7" fill="#C01010"/>
<rect x="316.9" y="443.4" width="12.7" height="0.7" fill="#5a0000"/>
<rect x="316.9" y="454.3" width="12.7" height="0.6" fill="#6a0000"/>
<rect x="316.9" y="443.8" width="0.7" height="21.3" fill="#6a0000"/>
<rect x="323.5" y="443.8" width="0.5" height="32.0" fill="#6a0000"/>
<path d="M305.5,442.1H338.0V474.9H305.5ZM309.7,444.9H340.8V477.6H309.7ZM305.5,442.1L309.7,444.9M338.0,442.1L340.8,444.9M305.5,474.9L309.7,477.6M338.0,474.9L340.8,477.6" fill="none" stroke="#0000FF" stroke-width="1.05"/>
<path d="M362.3,420.2H373.3V441.5H362.3ZM365.9,423.3H377.2V444.5H365.9ZM362.3,420.2L365.9,423.3M373.3,420.2L377.2,423.3M362.3,441.5L365.9,444.5M373.3,441.5L377.2,444.5" fill="none" stroke="#0000FF" stroke-width="1.05"/>
<line x1="236.4" y1="396.2" x2="380.4" y2="393.7" stroke="#404040" stroke-width=".95"/>
<line x1="256.2" y1="411.0" x2="399.8" y2="408.2" stroke="#404040" stroke-width=".95"/>
<line x1="236.4" y1="396.2" x2="256.2" y2="411.0" stroke="#404040" stroke-width=".95"/>
<line x1="380.4" y1="393.7" x2="399.8" y2="408.2" stroke="#404040" stroke-width=".95"/>
<line x1="236.4" y1="396.2" x2="236.4" y2="493.2" stroke="#404040" stroke-width=".95"/>
<line x1="256.2" y1="411.0" x2="256.4" y2="507.3" stroke="#404040" stroke-width=".95"/>
<line x1="399.8" y1="408.2" x2="400.0" y2="505.3" stroke="#404040" stroke-width=".95"/>
<line x1="236.4" y1="493.2" x2="256.4" y2="507.3" stroke="#404040" stroke-width=".95"/>
<line x1="256.4" y1="507.3" x2="400.0" y2="505.3" stroke="#404040" stroke-width=".95"/>
<line x1="236.4" y1="415.6" x2="233.8" y2="414.0" stroke="#3a3a3a" stroke-width=".7"/>
<line x1="236.4" y1="435.0" x2="233.8" y2="433.4" stroke="#3a3a3a" stroke-width=".7"/>
<line x1="236.4" y1="454.4" x2="233.8" y2="452.8" stroke="#3a3a3a" stroke-width=".7"/>
<line x1="236.4" y1="473.8" x2="233.8" y2="472.2" stroke="#3a3a3a" stroke-width=".7"/>
<line x1="236.4" y1="493.2" x2="233.8" y2="491.6" stroke="#3a3a3a" stroke-width=".7"/>
<line x1="256.4" y1="507.3" x2="256.4" y2="509.5" stroke="#3a3a3a" stroke-width=".7"/>
<line x1="289.6" y1="506.8" x2="289.6" y2="509.0" stroke="#3a3a3a" stroke-width=".7"/>
<line x1="326.5" y1="506.3" x2="326.5" y2="508.5" stroke="#3a3a3a" stroke-width=".7"/>
<line x1="363.3" y1="505.8" x2="363.3" y2="508.0" stroke="#3a3a3a" stroke-width=".7"/>
<line x1="400.0" y1="505.3" x2="400.0" y2="507.5" stroke="#3a3a3a" stroke-width=".7"/>
<line x1="236.4" y1="493.2" x2="236.8" y2="495.0" stroke="#3a3a3a" stroke-width=".7"/>
<line x1="246.4" y1="500.3" x2="246.8" y2="502.1" stroke="#3a3a3a" stroke-width=".7"/>
<text x="232.5" y="395.5" text-anchor="end" font-size="10">0</text>
<text x="232.3" y="415.1" text-anchor="end" font-size="10">2</text>
<text x="232.3" y="434.7" text-anchor="end" font-size="10">4</text>
<text x="232.3" y="454.2" text-anchor="end" font-size="10">6</text>
<text x="232.3" y="473.6" text-anchor="end" font-size="10">8</text>
<text x="234.4" y="492.1" text-anchor="end" font-size="10">10</text>
<text x="219.3" y="441.8" text-anchor="middle" font-size="10" transform="rotate(-90 219.3 441.8)" letter-spacing="0.35"><tspan font-style="italic">z</tspan>/km</text>
<text x="233.2" y="506.9" text-anchor="middle" font-size="10">20</text>
<text x="244.1" y="513.3" text-anchor="middle" font-size="10">10</text>
<text x="220.4" y="513.3" text-anchor="middle" font-size="10"><tspan font-style="italic">y</tspan>/km</text>
<text x="256.1" y="521.1" text-anchor="middle" font-size="10">0</text>
<text x="290.6" y="519.2" text-anchor="middle" font-size="10">10</text>
<text x="326.3" y="518.8" text-anchor="middle" font-size="10">20</text>
<text x="364.0" y="517.8" text-anchor="middle" font-size="10">30</text>
<text x="401.8" y="518.1" text-anchor="middle" font-size="10">40</text>
<text x="334.2" y="531.9" text-anchor="middle" font-size="10" letter-spacing="0.3"><tspan font-style="italic">x</tspan>/km</text>
<text x="306.0" y="541.8" text-anchor="middle" font-size="7">(<tspan font-weight="bold">h</tspan>)</text>
</svg>
</body></html>
